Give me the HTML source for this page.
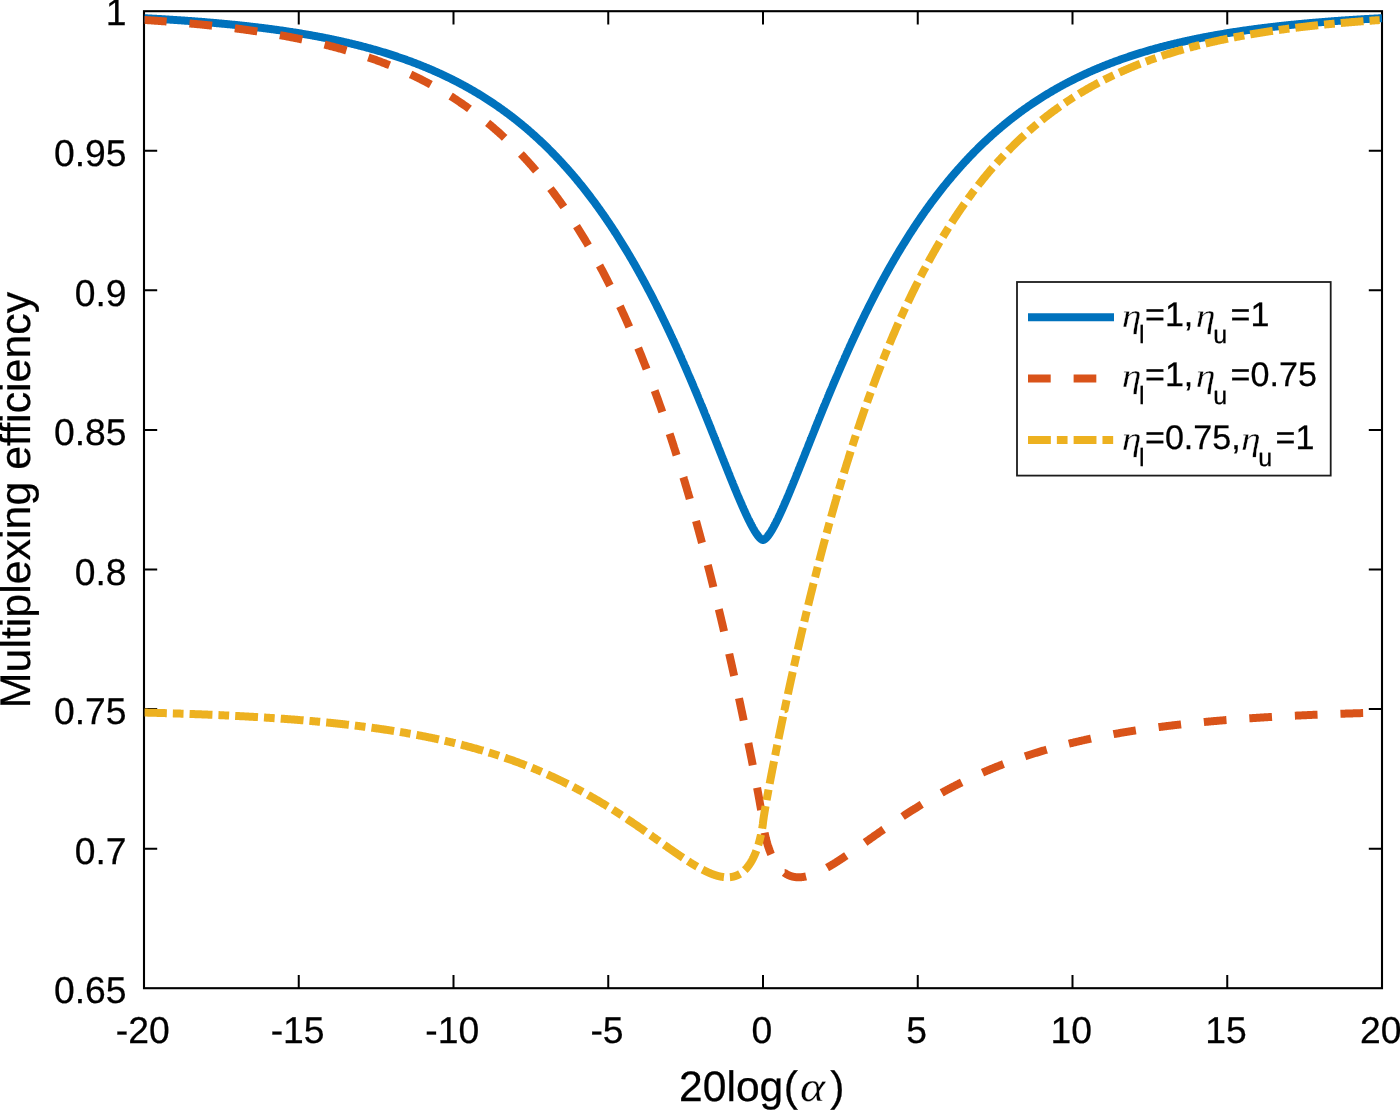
<!DOCTYPE html>
<html lang="en"><head><meta charset="utf-8"><title>Multiplexing efficiency</title>
<style>html,body{margin:0;padding:0;background:#fff}svg{display:block}text{font-family:"Liberation Sans",Arial,Helvetica,sans-serif;fill:#000;text-rendering:geometricPrecision;stroke:#000;stroke-width:.25px}.g{font-family:"Liberation Serif","DejaVu Serif",serif;font-style:italic;stroke:#fff;stroke-width:.3px;paint-order:fill stroke}</style></head><body>
<svg width="1400" height="1110" viewBox="0 0 1400 1110">
<rect width="1400" height="1110" fill="#fff"/>
<g stroke="#000" stroke-width="2.1" fill="none" stroke-linecap="square">
<rect x="144.0" y="11.2" width="1238.0" height="977.0"/>
</g><g stroke="#000" stroke-width="2" fill="none">
<path d="M298.75 988.20v-13.2 M298.75 11.20v13.2 M453.50 988.20v-13.2 M453.50 11.20v13.2 M608.25 988.20v-13.2 M608.25 11.20v13.2 M763.00 988.20v-13.2 M763.00 11.20v13.2 M917.75 988.20v-13.2 M917.75 11.20v13.2 M1072.50 988.20v-13.2 M1072.50 11.20v13.2 M1227.25 988.20v-13.2 M1227.25 11.20v13.2 M144.00 848.63h13.2 M1382.00 848.63h-13.2 M144.00 709.06h13.2 M1382.00 709.06h-13.2 M144.00 569.49h13.2 M1382.00 569.49h-13.2 M144.00 429.91h13.2 M1382.00 429.91h-13.2 M144.00 290.34h13.2 M1382.00 290.34h-13.2 M144.00 150.77h13.2 M1382.00 150.77h-13.2"/></g>
<defs><clipPath id="ax"><rect x="144.6" y="11.2" width="1238.1" height="977.0"/></clipPath></defs>
<g clip-path="url(#ax)" fill="none" stroke-width="8" stroke-linejoin="round">
<path d="M144.00 18.17 L144.77 18.21 L145.55 18.25 L146.32 18.29 L147.10 18.33 L147.87 18.37 L148.64 18.41 L149.42 18.46 L150.19 18.50 L150.96 18.54 L151.74 18.58 L152.51 18.62 L153.29 18.67 L154.06 18.71 L154.83 18.75 L155.61 18.80 L156.38 18.84 L157.15 18.89 L157.93 18.93 L158.70 18.97 L159.47 19.02 L160.25 19.06 L161.02 19.11 L161.80 19.16 L162.57 19.20 L163.34 19.25 L164.12 19.29 L164.89 19.34 L165.66 19.39 L166.44 19.43 L167.21 19.48 L167.99 19.53 L168.76 19.58 L169.53 19.63 L170.31 19.67 L171.08 19.72 L171.85 19.77 L172.63 19.82 L173.40 19.87 L174.18 19.92 L174.95 19.97 L175.72 20.02 L176.50 20.07 L177.27 20.12 L178.05 20.18 L178.82 20.23 L179.59 20.28 L180.37 20.33 L181.14 20.38 L181.91 20.44 L182.69 20.49 L183.46 20.54 L184.24 20.60 L185.01 20.65 L185.78 20.71 L186.56 20.76 L187.33 20.82 L188.10 20.87 L188.88 20.93 L189.65 20.98 L190.43 21.04 L191.20 21.10 L191.97 21.15 L192.75 21.21 L193.52 21.27 L194.29 21.33 L195.07 21.39 L195.84 21.44 L196.61 21.50 L197.39 21.56 L198.16 21.62 L198.94 21.68 L199.71 21.74 L200.48 21.80 L201.26 21.86 L202.03 21.93 L202.80 21.99 L203.58 22.05 L204.35 22.11 L205.13 22.18 L205.90 22.24 L206.67 22.30 L207.45 22.37 L208.22 22.43 L209.00 22.49 L209.77 22.56 L210.54 22.63 L211.32 22.69 L212.09 22.76 L212.86 22.82 L213.64 22.89 L214.41 22.96 L215.19 23.03 L215.96 23.09 L216.73 23.16 L217.51 23.23 L218.28 23.30 L219.05 23.37 L219.83 23.44 L220.60 23.51 L221.38 23.58 L222.15 23.65 L222.92 23.73 L223.70 23.80 L224.47 23.87 L225.24 23.94 L226.02 24.02 L226.79 24.09 L227.56 24.16 L228.34 24.24 L229.11 24.31 L229.89 24.39 L230.66 24.47 L231.43 24.54 L232.21 24.62 L232.98 24.70 L233.75 24.77 L234.53 24.85 L235.30 24.93 L236.08 25.01 L236.85 25.09 L237.62 25.17 L238.40 25.25 L239.17 25.33 L239.95 25.41 L240.72 25.49 L241.49 25.58 L242.27 25.66 L243.04 25.74 L243.81 25.83 L244.59 25.91 L245.36 25.99 L246.14 26.08 L246.91 26.17 L247.68 26.25 L248.46 26.34 L249.23 26.43 L250.00 26.51 L250.78 26.60 L251.55 26.69 L252.32 26.78 L253.10 26.87 L253.87 26.96 L254.65 27.05 L255.42 27.14 L256.19 27.23 L256.97 27.32 L257.74 27.42 L258.51 27.51 L259.29 27.60 L260.06 27.70 L260.84 27.79 L261.61 27.89 L262.38 27.99 L263.16 28.08 L263.93 28.18 L264.70 28.28 L265.48 28.38 L266.25 28.47 L267.03 28.57 L267.80 28.67 L268.57 28.77 L269.35 28.88 L270.12 28.98 L270.90 29.08 L271.67 29.18 L272.44 29.29 L273.22 29.39 L273.99 29.49 L274.76 29.60 L275.54 29.71 L276.31 29.81 L277.09 29.92 L277.86 30.03 L278.63 30.14 L279.41 30.24 L280.18 30.35 L280.95 30.46 L281.73 30.57 L282.50 30.69 L283.27 30.80 L284.05 30.91 L284.82 31.02 L285.60 31.14 L286.37 31.25 L287.14 31.37 L287.92 31.48 L288.69 31.60 L289.46 31.72 L290.24 31.84 L291.01 31.96 L291.79 32.07 L292.56 32.19 L293.33 32.32 L294.11 32.44 L294.88 32.56 L295.65 32.68 L296.43 32.81 L297.20 32.93 L297.98 33.05 L298.75 33.18 L299.52 33.31 L300.30 33.43 L301.07 33.56 L301.85 33.69 L302.62 33.82 L303.39 33.95 L304.17 34.08 L304.94 34.21 L305.71 34.34 L306.49 34.48 L307.26 34.61 L308.03 34.75 L308.81 34.88 L309.58 35.02 L310.36 35.15 L311.13 35.29 L311.90 35.43 L312.68 35.57 L313.45 35.71 L314.23 35.85 L315.00 35.99 L315.77 36.13 L316.55 36.28 L317.32 36.42 L318.09 36.57 L318.87 36.71 L319.64 36.86 L320.41 37.01 L321.19 37.15 L321.96 37.30 L322.74 37.45 L323.51 37.60 L324.28 37.76 L325.06 37.91 L325.83 38.06 L326.61 38.22 L327.38 38.37 L328.15 38.53 L328.93 38.68 L329.70 38.84 L330.47 39.00 L331.25 39.16 L332.02 39.32 L332.80 39.48 L333.57 39.64 L334.34 39.81 L335.12 39.97 L335.89 40.14 L336.66 40.30 L337.44 40.47 L338.21 40.64 L338.99 40.81 L339.76 40.98 L340.53 41.15 L341.31 41.32 L342.08 41.49 L342.85 41.67 L343.63 41.84 L344.40 42.02 L345.18 42.20 L345.95 42.37 L346.72 42.55 L347.50 42.73 L348.27 42.91 L349.04 43.09 L349.82 43.28 L350.59 43.46 L351.37 43.65 L352.14 43.83 L352.91 44.02 L353.69 44.21 L354.46 44.40 L355.23 44.59 L356.01 44.78 L356.78 44.97 L357.56 45.17 L358.33 45.36 L359.10 45.56 L359.88 45.75 L360.65 45.95 L361.42 46.15 L362.20 46.35 L362.97 46.55 L363.75 46.76 L364.52 46.96 L365.29 47.17 L366.07 47.37 L366.84 47.58 L367.61 47.79 L368.39 48.00 L369.16 48.21 L369.94 48.42 L370.71 48.63 L371.48 48.85 L372.26 49.06 L373.03 49.28 L373.80 49.50 L374.58 49.72 L375.35 49.94 L376.12 50.16 L376.90 50.38 L377.67 50.61 L378.45 50.84 L379.22 51.06 L379.99 51.29 L380.77 51.52 L381.54 51.75 L382.31 51.98 L383.09 52.22 L383.86 52.45 L384.64 52.69 L385.41 52.93 L386.18 53.16 L386.96 53.41 L387.73 53.65 L388.50 53.89 L389.28 54.13 L390.05 54.38 L390.83 54.63 L391.60 54.88 L392.37 55.13 L393.15 55.38 L393.92 55.63 L394.69 55.88 L395.47 56.14 L396.24 56.40 L397.02 56.66 L397.79 56.92 L398.56 57.18 L399.34 57.44 L400.11 57.71 L400.89 57.97 L401.66 58.24 L402.43 58.51 L403.21 58.78 L403.98 59.05 L404.75 59.32 L405.53 59.60 L406.30 59.88 L407.07 60.16 L407.85 60.44 L408.62 60.72 L409.40 61.00 L410.17 61.28 L410.94 61.57 L411.72 61.86 L412.49 62.15 L413.27 62.44 L414.04 62.73 L414.81 63.03 L415.59 63.32 L416.36 63.62 L417.13 63.92 L417.91 64.22 L418.68 64.52 L419.45 64.83 L420.23 65.14 L421.00 65.44 L421.78 65.75 L422.55 66.07 L423.32 66.38 L424.10 66.69 L424.87 67.01 L425.64 67.33 L426.42 67.65 L427.19 67.97 L427.97 68.30 L428.74 68.62 L429.51 68.95 L430.29 69.28 L431.06 69.61 L431.84 69.94 L432.61 70.28 L433.38 70.62 L434.16 70.96 L434.93 71.30 L435.70 71.64 L436.48 71.98 L437.25 72.33 L438.02 72.68 L438.80 73.03 L439.57 73.38 L440.35 73.74 L441.12 74.09 L441.89 74.45 L442.67 74.81 L443.44 75.18 L444.22 75.54 L444.99 75.91 L445.76 76.28 L446.54 76.65 L447.31 77.02 L448.08 77.39 L448.86 77.77 L449.63 78.15 L450.40 78.53 L451.18 78.92 L451.95 79.30 L452.73 79.69 L453.50 80.08 L454.27 80.47 L455.05 80.87 L455.82 81.26 L456.60 81.66 L457.37 82.06 L458.14 82.47 L458.92 82.87 L459.69 83.28 L460.46 83.69 L461.24 84.10 L462.01 84.52 L462.79 84.93 L463.56 85.35 L464.33 85.77 L465.11 86.20 L465.88 86.62 L466.65 87.05 L467.43 87.48 L468.20 87.92 L468.98 88.35 L469.75 88.79 L470.52 89.23 L471.30 89.68 L472.07 90.12 L472.84 90.57 L473.62 91.02 L474.39 91.47 L475.17 91.93 L475.94 92.39 L476.71 92.85 L477.49 93.31 L478.26 93.78 L479.03 94.25 L479.81 94.72 L480.58 95.19 L481.36 95.67 L482.13 96.15 L482.90 96.63 L483.68 97.12 L484.45 97.60 L485.22 98.09 L486.00 98.59 L486.77 99.08 L487.55 99.58 L488.32 100.08 L489.09 100.58 L489.87 101.09 L490.64 101.60 L491.41 102.11 L492.19 102.63 L492.96 103.14 L493.74 103.66 L494.51 104.19 L495.28 104.71 L496.06 105.24 L496.83 105.78 L497.60 106.31 L498.38 106.85 L499.15 107.39 L499.92 107.94 L500.70 108.48 L501.47 109.03 L502.25 109.59 L503.02 110.14 L503.79 110.70 L504.57 111.26 L505.34 111.83 L506.12 112.40 L506.89 112.97 L507.66 113.54 L508.44 114.12 L509.21 114.70 L509.98 115.29 L510.76 115.88 L511.53 116.47 L512.31 117.06 L513.08 117.66 L513.85 118.26 L514.63 118.86 L515.40 119.47 L516.17 120.08 L516.95 120.69 L517.72 121.31 L518.50 121.93 L519.27 122.56 L520.04 123.18 L520.82 123.82 L521.59 124.45 L522.36 125.09 L523.14 125.73 L523.91 126.37 L524.68 127.02 L525.46 127.67 L526.23 128.33 L527.01 128.99 L527.78 129.65 L528.55 130.32 L529.33 130.99 L530.10 131.66 L530.88 132.34 L531.65 133.02 L532.42 133.70 L533.20 134.39 L533.97 135.08 L534.74 135.78 L535.52 136.48 L536.29 137.18 L537.07 137.89 L537.84 138.60 L538.61 139.32 L539.39 140.03 L540.16 140.76 L540.93 141.48 L541.71 142.21 L542.48 142.95 L543.25 143.69 L544.03 144.43 L544.80 145.17 L545.58 145.93 L546.35 146.68 L547.12 147.44 L547.90 148.20 L548.67 148.97 L549.44 149.74 L550.22 150.51 L550.99 151.29 L551.77 152.07 L552.54 152.86 L553.31 153.65 L554.09 154.45 L554.86 155.25 L555.63 156.05 L556.41 156.86 L557.18 157.68 L557.96 158.49 L558.73 159.31 L559.50 160.14 L560.28 160.97 L561.05 161.81 L561.83 162.65 L562.60 163.49 L563.37 164.34 L564.15 165.19 L564.92 166.05 L565.69 166.91 L566.47 167.78 L567.24 168.65 L568.02 169.52 L568.79 170.40 L569.56 171.29 L570.34 172.18 L571.11 173.07 L571.88 173.97 L572.66 174.87 L573.43 175.78 L574.21 176.70 L574.98 177.61 L575.75 178.54 L576.53 179.46 L577.30 180.40 L578.07 181.33 L578.85 182.28 L579.62 183.22 L580.39 184.18 L581.17 185.13 L581.94 186.10 L582.72 187.06 L583.49 188.03 L584.26 189.01 L585.04 189.99 L585.81 190.98 L586.59 191.97 L587.36 192.97 L588.13 193.97 L588.91 194.98 L589.68 196.00 L590.45 197.01 L591.23 198.04 L592.00 199.07 L592.77 200.10 L593.55 201.14 L594.32 202.18 L595.10 203.24 L595.87 204.29 L596.64 205.35 L597.42 206.42 L598.19 207.49 L598.97 208.57 L599.74 209.65 L600.51 210.74 L601.29 211.83 L602.06 212.93 L602.83 214.04 L603.61 215.15 L604.38 216.26 L605.15 217.38 L605.93 218.51 L606.70 219.64 L607.48 220.78 L608.25 221.93 L609.02 223.08 L609.80 224.23 L610.57 225.40 L611.35 226.56 L612.12 227.74 L612.89 228.92 L613.67 230.10 L614.44 231.29 L615.21 232.49 L615.99 233.69 L616.76 234.90 L617.54 236.11 L618.31 237.33 L619.08 238.56 L619.86 239.79 L620.63 241.03 L621.40 242.28 L622.18 243.53 L622.95 244.78 L623.73 246.05 L624.50 247.31 L625.27 248.59 L626.05 249.87 L626.82 251.16 L627.59 252.45 L628.37 253.75 L629.14 255.06 L629.91 256.37 L630.69 257.69 L631.46 259.01 L632.24 260.34 L633.01 261.68 L633.78 263.02 L634.56 264.37 L635.33 265.73 L636.11 267.09 L636.88 268.46 L637.65 269.84 L638.43 271.22 L639.20 272.61 L639.97 274.00 L640.75 275.40 L641.52 276.81 L642.30 278.23 L643.07 279.65 L643.84 281.07 L644.62 282.51 L645.39 283.95 L646.16 285.39 L646.94 286.85 L647.71 288.30 L648.49 289.77 L649.26 291.24 L650.03 292.72 L650.81 294.21 L651.58 295.70 L652.35 297.20 L653.13 298.70 L653.90 300.22 L654.67 301.74 L655.45 303.26 L656.22 304.79 L657.00 306.33 L657.77 307.88 L658.54 309.43 L659.32 310.99 L660.09 312.55 L660.87 314.12 L661.64 315.70 L662.41 317.28 L663.19 318.88 L663.96 320.47 L664.73 322.08 L665.51 323.69 L666.28 325.31 L667.06 326.93 L667.83 328.56 L668.60 330.20 L669.38 331.84 L670.15 333.49 L670.30 333.82 L670.46 334.15 L670.61 334.48 L670.77 334.81 L670.92 335.15 L670.92 335.15 L671.08 335.48 L671.23 335.81 L671.39 336.14 L671.54 336.48 L671.70 336.81 L671.70 336.81 L671.85 337.14 L672.01 337.48 L672.16 337.81 L672.32 338.14 L672.47 338.48 L672.47 338.48 L672.63 338.81 L672.78 339.15 L672.94 339.48 L673.09 339.82 L673.25 340.15 L673.25 340.15 L673.40 340.49 L673.55 340.83 L673.71 341.16 L673.86 341.50 L674.02 341.84 L674.17 342.17 L674.33 342.51 L674.48 342.85 L674.64 343.19 L674.79 343.53 L674.79 343.53 L674.95 343.86 L675.10 344.20 L675.26 344.54 L675.41 344.88 L675.57 345.22 L675.57 345.22 L675.72 345.56 L675.88 345.90 L676.03 346.24 L676.19 346.58 L676.34 346.92 L676.34 346.92 L676.49 347.26 L676.65 347.60 L676.80 347.95 L676.96 348.29 L677.11 348.63 L677.11 348.63 L677.27 348.97 L677.42 349.31 L677.58 349.66 L677.73 350.00 L677.89 350.34 L678.04 350.69 L678.20 351.03 L678.35 351.37 L678.51 351.72 L678.66 352.06 L678.66 352.06 L678.82 352.41 L678.97 352.75 L679.13 353.10 L679.28 353.44 L679.43 353.79 L679.43 353.79 L679.59 354.14 L679.74 354.48 L679.90 354.83 L680.05 355.18 L680.21 355.52 L680.21 355.52 L680.36 355.87 L680.52 356.22 L680.67 356.56 L680.83 356.91 L680.98 357.26 L680.98 357.26 L681.14 357.61 L681.29 357.96 L681.45 358.31 L681.60 358.66 L681.76 359.01 L681.91 359.36 L682.07 359.71 L682.22 360.06 L682.38 360.41 L682.53 360.76 L682.53 360.76 L682.68 361.11 L682.84 361.46 L682.99 361.81 L683.15 362.16 L683.30 362.51 L683.30 362.51 L683.46 362.87 L683.61 363.22 L683.77 363.57 L683.92 363.92 L684.08 364.28 L684.08 364.28 L684.23 364.63 L684.39 364.98 L684.54 365.34 L684.70 365.69 L684.85 366.05 L684.85 366.05 L685.01 366.40 L685.16 366.76 L685.32 367.11 L685.47 367.47 L685.62 367.82 L685.78 368.18 L685.93 368.53 L686.09 368.89 L686.24 369.25 L686.40 369.60 L686.40 369.60 L686.55 369.96 L686.71 370.32 L686.86 370.67 L687.02 371.03 L687.17 371.39 L687.17 371.39 L687.33 371.75 L687.48 372.11 L687.64 372.46 L687.79 372.82 L687.95 373.18 L687.95 373.18 L688.10 373.54 L688.26 373.90 L688.41 374.26 L688.57 374.62 L688.72 374.98 L688.72 374.98 L688.87 375.34 L689.03 375.70 L689.18 376.06 L689.34 376.42 L689.49 376.78 L689.65 377.15 L689.80 377.51 L689.96 377.87 L690.11 378.23 L690.27 378.59 L690.27 378.59 L690.42 378.96 L690.58 379.32 L690.73 379.68 L690.89 380.05 L691.04 380.41 L691.04 380.41 L691.20 380.77 L691.35 381.14 L691.51 381.50 L691.66 381.86 L691.82 382.23 L691.82 382.23 L691.97 382.59 L692.12 382.96 L692.28 383.32 L692.43 383.69 L692.59 384.06 L692.59 384.06 L692.74 384.42 L692.90 384.79 L693.05 385.15 L693.21 385.52 L693.36 385.89 L693.52 386.25 L693.67 386.62 L693.83 386.99 L693.98 387.36 L694.14 387.72 L694.14 387.72 L694.29 388.09 L694.45 388.46 L694.60 388.83 L694.76 389.20 L694.91 389.57 L694.91 389.57 L695.06 389.93 L695.22 390.30 L695.37 390.67 L695.53 391.04 L695.68 391.41 L695.68 391.41 L695.84 391.78 L695.99 392.15 L696.15 392.52 L696.30 392.89 L696.46 393.27 L696.46 393.27 L696.61 393.64 L696.77 394.01 L696.92 394.38 L697.08 394.75 L697.23 395.12 L697.39 395.49 L697.54 395.87 L697.70 396.24 L697.85 396.61 L698.00 396.98 L698.01 396.98 L698.16 397.36 L698.31 397.73 L698.47 398.10 L698.62 398.48 L698.78 398.85 L698.78 398.85 L698.93 399.23 L699.09 399.60 L699.24 399.97 L699.40 400.35 L699.55 400.72 L699.55 400.72 L699.71 401.10 L699.86 401.47 L700.02 401.85 L700.17 402.22 L700.33 402.60 L700.33 402.60 L700.48 402.98 L700.64 403.35 L700.79 403.73 L700.95 404.10 L701.10 404.48 L701.25 404.86 L701.41 405.23 L701.56 405.61 L701.72 405.99 L701.87 406.37 L701.87 406.37 L702.03 406.74 L702.18 407.12 L702.34 407.50 L702.49 407.88 L702.65 408.25 L702.65 408.25 L702.80 408.63 L702.96 409.01 L703.11 409.39 L703.27 409.77 L703.42 410.15 L703.42 410.15 L703.58 410.53 L703.73 410.91 L703.89 411.29 L704.04 411.67 L704.20 412.05 L704.20 412.05 L704.35 412.43 L704.50 412.81 L704.66 413.19 L704.81 413.57 L704.97 413.95 L705.12 414.33 L705.28 414.71 L705.43 415.09 L705.59 415.47 L705.74 415.85 L705.74 415.85 L705.90 416.23 L706.05 416.62 L706.21 417.00 L706.36 417.38 L706.52 417.76 L706.52 417.76 L706.67 418.14 L706.83 418.53 L706.98 418.91 L707.14 419.29 L707.29 419.67 L707.29 419.67 L707.44 420.06 L707.60 420.44 L707.75 420.82 L707.91 421.21 L708.06 421.59 L708.06 421.59 L708.22 421.97 L708.37 422.36 L708.53 422.74 L708.68 423.13 L708.84 423.51 L708.99 423.89 L709.15 424.28 L709.30 424.66 L709.46 425.05 L709.61 425.43 L709.61 425.43 L709.77 425.82 L709.92 426.20 L710.08 426.59 L710.23 426.97 L710.38 427.36 L710.38 427.36 L710.54 427.74 L710.69 428.13 L710.85 428.51 L711.00 428.90 L711.16 429.29 L711.16 429.29 L711.31 429.67 L711.47 430.06 L711.62 430.44 L711.78 430.83 L711.93 431.22 L711.93 431.22 L712.09 431.60 L712.24 431.99 L712.40 432.38 L712.55 432.76 L712.71 433.15 L712.86 433.54 L713.02 433.92 L713.17 434.31 L713.33 434.70 L713.48 435.08 L713.48 435.08 L713.63 435.47 L713.79 435.86 L713.94 436.25 L714.10 436.63 L714.25 437.02 L714.25 437.02 L714.41 437.41 L714.56 437.80 L714.72 438.18 L714.87 438.57 L715.03 438.96 L715.03 438.96 L715.18 439.35 L715.34 439.74 L715.49 440.12 L715.65 440.51 L715.80 440.90 L715.80 440.90 L715.96 441.29 L716.11 441.68 L716.27 442.07 L716.42 442.45 L716.58 442.84 L716.73 443.23 L716.88 443.62 L717.04 444.01 L717.19 444.40 L717.35 444.79 L717.35 444.79 L717.50 445.17 L717.66 445.56 L717.81 445.95 L717.97 446.34 L718.12 446.73 L718.12 446.73 L718.28 447.12 L718.43 447.51 L718.59 447.90 L718.74 448.29 L718.90 448.67 L718.90 448.67 L719.05 449.06 L719.21 449.45 L719.36 449.84 L719.52 450.23 L719.67 450.62 L719.67 450.62 L719.82 451.01 L719.98 451.40 L720.13 451.79 L720.29 452.18 L720.44 452.56 L720.60 452.95 L720.75 453.34 L720.91 453.73 L721.06 454.12 L721.22 454.51 L721.22 454.51 L721.37 454.90 L721.53 455.29 L721.68 455.68 L721.84 456.07 L721.99 456.45 L721.99 456.45 L722.15 456.84 L722.30 457.23 L722.46 457.62 L722.61 458.01 L722.76 458.40 L722.76 458.40 L722.92 458.79 L723.07 459.18 L723.23 459.56 L723.38 459.95 L723.54 460.34 L723.54 460.34 L723.69 460.73 L723.85 461.12 L724.00 461.51 L724.16 461.89 L724.31 462.28 L724.47 462.67 L724.62 463.06 L724.78 463.45 L724.93 463.83 L725.09 464.22 L725.09 464.22 L725.24 464.61 L725.40 465.00 L725.55 465.38 L725.71 465.77 L725.86 466.16 L725.86 466.16 L726.01 466.55 L726.17 466.93 L726.32 467.32 L726.48 467.71 L726.63 468.09 L726.63 468.09 L726.79 468.48 L726.94 468.87 L727.10 469.25 L727.25 469.64 L727.41 470.03 L727.41 470.03 L727.56 470.41 L727.72 470.80 L727.87 471.18 L728.03 471.57 L728.18 471.96 L728.34 472.34 L728.49 472.73 L728.65 473.11 L728.80 473.50 L728.95 473.88 L728.96 473.88 L729.11 474.26 L729.26 474.65 L729.42 475.03 L729.57 475.42 L729.73 475.80 L729.73 475.80 L729.88 476.19 L730.04 476.57 L730.19 476.95 L730.35 477.33 L730.50 477.72 L730.50 477.72 L730.66 478.10 L730.81 478.48 L730.97 478.87 L731.12 479.25 L731.28 479.63 L731.28 479.63 L731.43 480.01 L731.59 480.39 L731.74 480.77 L731.90 481.15 L732.05 481.53 L732.20 481.91 L732.36 482.29 L732.51 482.67 L732.67 483.05 L732.82 483.43 L732.82 483.43 L732.98 483.81 L733.13 484.19 L733.29 484.57 L733.44 484.95 L733.60 485.33 L733.60 485.33 L733.75 485.70 L733.91 486.08 L734.06 486.46 L734.22 486.84 L734.37 487.21 L734.37 487.21 L734.53 487.59 L734.68 487.96 L734.84 488.34 L734.99 488.71 L735.15 489.09 L735.15 489.09 L735.30 489.46 L735.45 489.84 L735.61 490.21 L735.76 490.58 L735.92 490.96 L736.07 491.33 L736.23 491.70 L736.38 492.07 L736.54 492.45 L736.69 492.82 L736.69 492.82 L736.85 493.19 L737.00 493.56 L737.16 493.93 L737.31 494.30 L737.47 494.67 L737.47 494.67 L737.62 495.04 L737.78 495.40 L737.93 495.77 L738.09 496.14 L738.24 496.51 L738.24 496.51 L738.39 496.87 L738.55 497.24 L738.70 497.60 L738.86 497.97 L739.01 498.33 L739.01 498.33 L739.17 498.70 L739.32 499.06 L739.48 499.42 L739.63 499.79 L739.79 500.15 L739.94 500.51 L740.10 500.87 L740.25 501.23 L740.41 501.59 L740.56 501.95 L740.56 501.95 L740.72 502.31 L740.87 502.67 L741.03 503.02 L741.18 503.38 L741.34 503.74 L741.34 503.74 L741.49 504.09 L741.64 504.45 L741.80 504.80 L741.95 505.15 L742.11 505.51 L742.11 505.51 L742.26 505.86 L742.42 506.21 L742.57 506.56 L742.73 506.91 L742.88 507.26 L742.88 507.26 L743.04 507.61 L743.19 507.96 L743.35 508.31 L743.50 508.65 L743.66 509.00 L743.81 509.35 L743.97 509.69 L744.12 510.03 L744.28 510.38 L744.43 510.72 L744.43 510.72 L744.58 511.06 L744.74 511.40 L744.89 511.74 L745.05 512.08 L745.20 512.42 L745.20 512.42 L745.36 512.76 L745.51 513.09 L745.67 513.43 L745.82 513.76 L745.98 514.10 L745.98 514.10 L746.13 514.43 L746.29 514.76 L746.44 515.09 L746.60 515.42 L746.75 515.75 L746.75 515.75 L746.91 516.08 L747.06 516.41 L747.22 516.73 L747.37 517.06 L747.52 517.38 L747.68 517.71 L747.83 518.03 L747.99 518.35 L748.14 518.67 L748.30 518.99 L748.30 518.99 L748.45 519.31 L748.61 519.62 L748.76 519.94 L748.92 520.25 L749.07 520.56 L749.07 520.56 L749.23 520.88 L749.38 521.19 L749.54 521.50 L749.69 521.80 L749.85 522.11 L749.85 522.11 L750.00 522.42 L750.16 522.72 L750.31 523.02 L750.47 523.32 L750.62 523.62 L750.62 523.62 L750.77 523.92 L750.93 524.22 L751.08 524.52 L751.24 524.81 L751.39 525.10 L751.55 525.40 L751.70 525.69 L751.86 525.97 L752.01 526.26 L752.17 526.55 L752.17 526.55 L752.32 526.83 L752.48 527.11 L752.63 527.39 L752.79 527.67 L752.94 527.95 L752.94 527.95 L753.10 528.22 L753.25 528.50 L753.41 528.77 L753.56 529.04 L753.72 529.31 L753.72 529.31 L753.87 529.57 L754.02 529.84 L754.18 530.10 L754.33 530.36 L754.49 530.62 L754.49 530.62 L754.64 530.88 L754.80 531.13 L754.95 531.38 L755.11 531.63 L755.26 531.88 L755.42 532.13 L755.57 532.37 L755.73 532.61 L755.88 532.85 L756.04 533.08 L756.04 533.08 L756.19 533.32 L756.35 533.55 L756.50 533.78 L756.66 534.01 L756.81 534.23 L756.81 534.23 L756.96 534.45 L757.12 534.67 L757.27 534.88 L757.43 535.10 L757.58 535.31 L757.58 535.31 L757.74 535.51 L757.89 535.72 L758.05 535.92 L758.20 536.12 L758.36 536.31 L758.36 536.31 L758.51 536.50 L758.67 536.69 L758.82 536.87 L758.98 537.05 L759.13 537.23 L759.29 537.40 L759.44 537.57 L759.60 537.74 L759.75 537.90 L759.90 538.06 L759.91 538.06 L760.06 538.21 L760.21 538.36 L760.37 538.50 L760.52 538.64 L760.68 538.77 L760.68 538.77 L760.83 538.90 L760.99 539.02 L761.14 539.14 L761.30 539.25 L761.45 539.36 L761.45 539.36 L761.61 539.46 L761.76 539.55 L761.92 539.64 L762.07 539.72 L762.23 539.79 L762.23 539.79 L762.38 539.85 L762.54 539.90 L762.69 539.94 L762.85 539.97 L763.00 539.98 L763.15 539.97 L763.31 539.94 L763.46 539.90 L763.62 539.85 L763.77 539.79 L763.77 539.79 L763.93 539.72 L764.08 539.64 L764.24 539.55 L764.39 539.46 L764.55 539.36 L764.55 539.36 L764.70 539.25 L764.86 539.14 L765.01 539.02 L765.17 538.90 L765.32 538.77 L765.32 538.77 L765.48 538.64 L765.63 538.50 L765.79 538.36 L765.94 538.21 L766.10 538.06 L766.10 538.06 L766.25 537.90 L766.40 537.74 L766.56 537.57 L766.71 537.40 L766.87 537.23 L767.02 537.05 L767.18 536.87 L767.33 536.69 L767.49 536.50 L767.64 536.31 L767.64 536.31 L767.80 536.12 L767.95 535.92 L768.11 535.72 L768.26 535.51 L768.42 535.31 L768.42 535.31 L768.57 535.10 L768.73 534.88 L768.88 534.67 L769.04 534.45 L769.19 534.23 L769.19 534.23 L769.34 534.01 L769.50 533.78 L769.65 533.55 L769.81 533.32 L769.96 533.08 L769.96 533.08 L770.12 532.85 L770.27 532.61 L770.43 532.37 L770.58 532.13 L770.74 531.88 L770.89 531.63 L771.05 531.38 L771.20 531.13 L771.36 530.88 L771.51 530.62 L771.51 530.62 L771.67 530.36 L771.82 530.10 L771.98 529.84 L772.13 529.57 L772.29 529.31 L772.29 529.31 L772.44 529.04 L772.59 528.77 L772.75 528.50 L772.90 528.22 L773.06 527.95 L773.06 527.95 L773.21 527.67 L773.37 527.39 L773.52 527.11 L773.68 526.83 L773.83 526.55 L773.83 526.55 L773.99 526.26 L774.14 525.97 L774.30 525.69 L774.45 525.40 L774.61 525.10 L774.76 524.81 L774.92 524.52 L775.07 524.22 L775.23 523.92 L775.38 523.62 L775.38 523.62 L775.53 523.32 L775.69 523.02 L775.84 522.72 L776.00 522.42 L776.15 522.11 L776.15 522.11 L776.31 521.80 L776.46 521.50 L776.62 521.19 L776.77 520.88 L776.93 520.56 L776.93 520.56 L777.08 520.25 L777.24 519.94 L777.39 519.62 L777.55 519.31 L777.70 518.99 L777.70 518.99 L777.86 518.67 L778.01 518.35 L778.17 518.03 L778.32 517.71 L778.47 517.38 L778.63 517.06 L778.78 516.73 L778.94 516.41 L779.09 516.08 L779.25 515.75 L779.25 515.75 L779.40 515.42 L779.56 515.09 L779.71 514.76 L779.87 514.43 L780.02 514.10 L780.02 514.10 L780.18 513.76 L780.33 513.43 L780.49 513.09 L780.64 512.76 L780.80 512.42 L780.80 512.42 L780.95 512.08 L781.11 511.74 L781.26 511.40 L781.42 511.06 L781.57 510.72 L781.57 510.72 L781.72 510.38 L781.88 510.03 L782.03 509.69 L782.19 509.35 L782.34 509.00 L782.50 508.65 L782.65 508.31 L782.81 507.96 L782.96 507.61 L783.12 507.26 L783.12 507.26 L783.27 506.91 L783.43 506.56 L783.58 506.21 L783.74 505.86 L783.89 505.51 L783.89 505.51 L784.05 505.15 L784.20 504.80 L784.36 504.45 L784.51 504.09 L784.66 503.74 L784.67 503.74 L784.82 503.38 L784.97 503.02 L785.13 502.67 L785.28 502.31 L785.44 501.95 L785.44 501.95 L785.59 501.59 L785.75 501.23 L785.90 500.87 L786.06 500.51 L786.21 500.15 L786.37 499.79 L786.52 499.42 L786.68 499.06 L786.83 498.70 L786.99 498.33 L786.99 498.33 L787.14 497.97 L787.30 497.60 L787.45 497.24 L787.61 496.87 L787.76 496.51 L787.76 496.51 L787.91 496.14 L788.07 495.77 L788.22 495.40 L788.38 495.04 L788.53 494.67 L788.53 494.67 L788.69 494.30 L788.84 493.93 L789.00 493.56 L789.15 493.19 L789.31 492.82 L789.31 492.82 L789.46 492.45 L789.62 492.07 L789.77 491.70 L789.93 491.33 L790.08 490.96 L790.24 490.58 L790.39 490.21 L790.55 489.84 L790.70 489.46 L790.85 489.09 L790.86 489.09 L791.01 488.71 L791.16 488.34 L791.32 487.96 L791.47 487.59 L791.63 487.21 L791.63 487.21 L791.78 486.84 L791.94 486.46 L792.09 486.08 L792.25 485.70 L792.40 485.33 L792.40 485.33 L792.56 484.95 L792.71 484.57 L792.87 484.19 L793.02 483.81 L793.18 483.43 L793.18 483.43 L793.33 483.05 L793.49 482.67 L793.64 482.29 L793.80 481.91 L793.95 481.53 L794.10 481.15 L794.26 480.77 L794.41 480.39 L794.57 480.01 L794.72 479.63 L794.72 479.63 L794.88 479.25 L795.03 478.87 L795.19 478.48 L795.34 478.10 L795.50 477.72 L795.50 477.72 L795.65 477.33 L795.81 476.95 L795.96 476.57 L796.12 476.19 L796.27 475.80 L796.27 475.80 L796.43 475.42 L796.58 475.03 L796.74 474.65 L796.89 474.26 L797.05 473.88 L797.05 473.88 L797.20 473.50 L797.35 473.11 L797.51 472.73 L797.66 472.34 L797.82 471.96 L797.97 471.57 L798.13 471.18 L798.28 470.80 L798.44 470.41 L798.59 470.03 L798.59 470.03 L798.75 469.64 L798.90 469.25 L799.06 468.87 L799.21 468.48 L799.37 468.09 L799.37 468.09 L799.52 467.71 L799.68 467.32 L799.83 466.93 L799.99 466.55 L800.14 466.16 L800.14 466.16 L800.29 465.77 L800.45 465.38 L800.60 465.00 L800.76 464.61 L800.91 464.22 L800.91 464.22 L801.07 463.83 L801.22 463.45 L801.38 463.06 L801.53 462.67 L801.69 462.28 L801.84 461.89 L802.00 461.51 L802.15 461.12 L802.31 460.73 L802.46 460.34 L802.46 460.34 L802.62 459.95 L802.77 459.56 L802.93 459.18 L803.08 458.79 L803.24 458.40 L803.24 458.40 L803.39 458.01 L803.54 457.62 L803.70 457.23 L803.85 456.84 L804.01 456.45 L804.01 456.45 L804.16 456.07 L804.32 455.68 L804.47 455.29 L804.63 454.90 L804.78 454.51 L804.78 454.51 L804.94 454.12 L805.09 453.73 L805.25 453.34 L805.40 452.95 L805.56 452.56 L805.71 452.18 L805.87 451.79 L806.02 451.40 L806.18 451.01 L806.33 450.62 L806.33 450.62 L806.48 450.23 L806.64 449.84 L806.79 449.45 L806.95 449.06 L807.10 448.67 L807.10 448.67 L807.26 448.29 L807.41 447.90 L807.57 447.51 L807.72 447.12 L807.88 446.73 L807.88 446.73 L808.03 446.34 L808.19 445.95 L808.34 445.56 L808.50 445.17 L808.65 444.79 L808.65 444.79 L808.81 444.40 L808.96 444.01 L809.12 443.62 L809.27 443.23 L809.42 442.84 L809.58 442.45 L809.73 442.07 L809.89 441.68 L810.04 441.29 L810.20 440.90 L810.20 440.90 L810.35 440.51 L810.51 440.12 L810.66 439.74 L810.82 439.35 L810.97 438.96 L810.97 438.96 L811.13 438.57 L811.28 438.18 L811.44 437.80 L811.59 437.41 L811.75 437.02 L811.75 437.02 L811.90 436.63 L812.06 436.25 L812.21 435.86 L812.37 435.47 L812.52 435.08 L812.52 435.08 L812.67 434.70 L812.83 434.31 L812.98 433.92 L813.14 433.54 L813.29 433.15 L813.45 432.76 L813.60 432.38 L813.76 431.99 L813.91 431.60 L814.07 431.22 L814.07 431.22 L814.22 430.83 L814.38 430.44 L814.53 430.06 L814.69 429.67 L814.84 429.29 L814.84 429.29 L815.00 428.90 L815.15 428.51 L815.31 428.13 L815.46 427.74 L815.62 427.36 L815.62 427.36 L815.77 426.97 L815.92 426.59 L816.08 426.20 L816.23 425.82 L816.39 425.43 L816.39 425.43 L816.54 425.05 L816.70 424.66 L816.85 424.28 L817.01 423.89 L817.16 423.51 L817.32 423.13 L817.47 422.74 L817.63 422.36 L817.78 421.97 L817.94 421.59 L817.94 421.59 L818.09 421.21 L818.25 420.82 L818.40 420.44 L818.56 420.06 L818.71 419.67 L818.71 419.67 L818.86 419.29 L819.02 418.91 L819.17 418.53 L819.33 418.14 L819.48 417.76 L819.48 417.76 L819.64 417.38 L819.79 417.00 L819.95 416.62 L820.10 416.23 L820.26 415.85 L820.26 415.85 L820.41 415.47 L820.57 415.09 L820.72 414.71 L820.88 414.33 L821.03 413.95 L821.19 413.57 L821.34 413.19 L821.50 412.81 L821.65 412.43 L821.80 412.05 L821.81 412.05 L821.96 411.67 L822.11 411.29 L822.27 410.91 L822.42 410.53 L822.58 410.15 L822.58 410.15 L822.73 409.77 L822.89 409.39 L823.04 409.01 L823.20 408.63 L823.35 408.25 L823.35 408.25 L823.51 407.88 L823.66 407.50 L823.82 407.12 L823.97 406.74 L824.13 406.37 L824.13 406.37 L824.28 405.99 L824.44 405.61 L824.59 405.23 L824.75 404.86 L824.90 404.48 L825.05 404.10 L825.21 403.73 L825.36 403.35 L825.52 402.98 L825.67 402.60 L825.67 402.60 L825.83 402.22 L825.98 401.85 L826.14 401.47 L826.29 401.10 L826.45 400.72 L826.45 400.72 L826.60 400.35 L826.76 399.97 L826.91 399.60 L827.07 399.23 L827.22 398.85 L827.22 398.85 L827.38 398.48 L827.53 398.10 L827.69 397.73 L827.84 397.36 L828.00 396.98 L828.00 396.98 L828.15 396.61 L828.30 396.24 L828.46 395.87 L828.61 395.49 L828.77 395.12 L828.92 394.75 L829.08 394.38 L829.23 394.01 L829.39 393.64 L829.54 393.27 L829.54 393.27 L829.70 392.89 L829.85 392.52 L830.01 392.15 L830.16 391.78 L830.32 391.41 L830.32 391.41 L830.47 391.04 L830.63 390.67 L830.78 390.30 L830.94 389.93 L831.09 389.57 L831.09 389.57 L831.24 389.20 L831.40 388.83 L831.55 388.46 L831.71 388.09 L831.86 387.72 L831.86 387.72 L832.02 387.36 L832.17 386.99 L832.33 386.62 L832.48 386.25 L832.64 385.89 L832.79 385.52 L832.95 385.15 L833.10 384.79 L833.26 384.42 L833.41 384.06 L833.41 384.06 L833.57 383.69 L833.72 383.32 L833.88 382.96 L834.03 382.59 L834.18 382.23 L834.18 382.23 L834.34 381.86 L834.49 381.50 L834.65 381.14 L834.80 380.77 L834.96 380.41 L834.96 380.41 L835.11 380.05 L835.27 379.68 L835.42 379.32 L835.58 378.96 L835.73 378.59 L835.73 378.59 L835.89 378.23 L836.04 377.87 L836.20 377.51 L836.35 377.15 L836.51 376.78 L836.66 376.42 L836.82 376.06 L836.97 375.70 L837.13 375.34 L837.28 374.98 L837.28 374.98 L837.43 374.62 L837.59 374.26 L837.74 373.90 L837.90 373.54 L838.05 373.18 L838.05 373.18 L838.21 372.82 L838.36 372.46 L838.52 372.11 L838.67 371.75 L838.83 371.39 L838.83 371.39 L838.98 371.03 L839.14 370.67 L839.29 370.32 L839.45 369.96 L839.60 369.60 L839.60 369.60 L839.76 369.25 L839.91 368.89 L840.07 368.53 L840.22 368.18 L840.38 367.82 L840.53 367.47 L840.68 367.11 L840.84 366.76 L840.99 366.40 L841.15 366.05 L841.15 366.05 L841.30 365.69 L841.46 365.34 L841.61 364.98 L841.77 364.63 L841.92 364.28 L841.92 364.28 L842.08 363.92 L842.23 363.57 L842.39 363.22 L842.54 362.87 L842.70 362.51 L842.70 362.51 L842.85 362.16 L843.01 361.81 L843.16 361.46 L843.32 361.11 L843.47 360.76 L843.47 360.76 L843.62 360.41 L843.78 360.06 L843.93 359.71 L844.09 359.36 L844.24 359.01 L844.40 358.66 L844.55 358.31 L844.71 357.96 L844.86 357.61 L845.02 357.26 L845.02 357.26 L845.17 356.91 L845.33 356.56 L845.48 356.22 L845.64 355.87 L845.79 355.52 L845.79 355.52 L845.95 355.18 L846.10 354.83 L846.26 354.48 L846.41 354.14 L846.57 353.79 L846.57 353.79 L846.72 353.44 L846.87 353.10 L847.03 352.75 L847.18 352.41 L847.34 352.06 L847.34 352.06 L847.49 351.72 L847.65 351.37 L847.80 351.03 L847.96 350.69 L848.11 350.34 L848.27 350.00 L848.42 349.66 L848.58 349.31 L848.73 348.97 L848.89 348.63 L848.89 348.63 L849.04 348.29 L849.20 347.95 L849.35 347.60 L849.51 347.26 L849.66 346.92 L849.66 346.92 L849.81 346.58 L849.97 346.24 L850.12 345.90 L850.28 345.56 L850.43 345.22 L850.43 345.22 L850.59 344.88 L850.74 344.54 L850.90 344.20 L851.05 343.86 L851.21 343.53 L851.21 343.53 L851.36 343.19 L851.52 342.85 L851.67 342.51 L851.83 342.17 L851.98 341.84 L852.14 341.50 L852.29 341.16 L852.45 340.83 L852.60 340.49 L852.75 340.15 L852.75 340.15 L852.91 339.82 L853.06 339.48 L853.22 339.15 L853.37 338.81 L853.53 338.48 L853.53 338.48 L853.68 338.14 L853.84 337.81 L853.99 337.48 L854.15 337.14 L854.30 336.81 L854.30 336.81 L854.46 336.48 L854.61 336.14 L854.77 335.81 L854.92 335.48 L855.08 335.15 L855.08 335.15 L855.23 334.81 L855.39 334.48 L855.54 334.15 L855.70 333.82 L855.85 333.49 L856.62 331.84 L857.40 330.20 L858.17 328.56 L858.95 326.93 L859.72 325.31 L860.49 323.69 L861.27 322.08 L862.04 320.47 L862.81 318.88 L863.59 317.28 L864.36 315.70 L865.13 314.12 L865.91 312.55 L866.68 310.99 L867.46 309.43 L868.23 307.88 L869.00 306.33 L869.78 304.79 L870.55 303.26 L871.33 301.74 L872.10 300.22 L872.87 298.70 L873.65 297.20 L874.42 295.70 L875.19 294.21 L875.97 292.72 L876.74 291.24 L877.51 289.77 L878.29 288.30 L879.06 286.85 L879.84 285.39 L880.61 283.95 L881.38 282.51 L882.16 281.07 L882.93 279.65 L883.71 278.23 L884.48 276.81 L885.25 275.40 L886.03 274.00 L886.80 272.61 L887.57 271.22 L888.35 269.84 L889.12 268.46 L889.90 267.09 L890.67 265.73 L891.44 264.37 L892.22 263.02 L892.99 261.68 L893.76 260.34 L894.54 259.01 L895.31 257.69 L896.09 256.37 L896.86 255.06 L897.63 253.75 L898.41 252.45 L899.18 251.16 L899.95 249.87 L900.73 248.59 L901.50 247.31 L902.28 246.05 L903.05 244.78 L903.82 243.53 L904.60 242.28 L905.37 241.03 L906.14 239.79 L906.92 238.56 L907.69 237.33 L908.47 236.11 L909.24 234.90 L910.01 233.69 L910.79 232.49 L911.56 231.29 L912.33 230.10 L913.11 228.92 L913.88 227.74 L914.66 226.56 L915.43 225.40 L916.20 224.23 L916.98 223.08 L917.75 221.93 L918.52 220.78 L919.30 219.64 L920.07 218.51 L920.85 217.38 L921.62 216.26 L922.39 215.15 L923.17 214.04 L923.94 212.93 L924.71 211.83 L925.49 210.74 L926.26 209.65 L927.04 208.57 L927.81 207.49 L928.58 206.42 L929.36 205.35 L930.13 204.29 L930.90 203.24 L931.68 202.18 L932.45 201.14 L933.22 200.10 L934.00 199.07 L934.77 198.04 L935.55 197.01 L936.32 196.00 L937.09 194.98 L937.87 193.97 L938.64 192.97 L939.42 191.97 L940.19 190.98 L940.96 189.99 L941.74 189.01 L942.51 188.03 L943.28 187.06 L944.06 186.10 L944.83 185.13 L945.61 184.18 L946.38 183.22 L947.15 182.28 L947.93 181.33 L948.70 180.40 L949.47 179.46 L950.25 178.54 L951.02 177.61 L951.80 176.70 L952.57 175.78 L953.34 174.87 L954.12 173.97 L954.89 173.07 L955.66 172.18 L956.44 171.29 L957.21 170.40 L957.99 169.52 L958.76 168.65 L959.53 167.78 L960.31 166.91 L961.08 166.05 L961.85 165.19 L962.63 164.34 L963.40 163.49 L964.17 162.65 L964.95 161.81 L965.72 160.97 L966.50 160.14 L967.27 159.31 L968.04 158.49 L968.82 157.68 L969.59 156.86 L970.37 156.05 L971.14 155.25 L971.91 154.45 L972.69 153.65 L973.46 152.86 L974.23 152.07 L975.01 151.29 L975.78 150.51 L976.56 149.74 L977.33 148.97 L978.10 148.20 L978.88 147.44 L979.65 146.68 L980.42 145.93 L981.20 145.17 L981.97 144.43 L982.75 143.69 L983.52 142.95 L984.29 142.21 L985.07 141.48 L985.84 140.76 L986.61 140.03 L987.39 139.32 L988.16 138.60 L988.93 137.89 L989.71 137.18 L990.48 136.48 L991.26 135.78 L992.03 135.08 L992.80 134.39 L993.58 133.70 L994.35 133.02 L995.12 132.34 L995.90 131.66 L996.67 130.99 L997.45 130.32 L998.22 129.65 L998.99 128.99 L999.77 128.33 L1000.54 127.67 L1001.32 127.02 L1002.09 126.37 L1002.86 125.73 L1003.64 125.09 L1004.41 124.45 L1005.18 123.82 L1005.96 123.18 L1006.73 122.56 L1007.50 121.93 L1008.28 121.31 L1009.05 120.69 L1009.83 120.08 L1010.60 119.47 L1011.37 118.86 L1012.15 118.26 L1012.92 117.66 L1013.70 117.06 L1014.47 116.47 L1015.24 115.88 L1016.02 115.29 L1016.79 114.70 L1017.56 114.12 L1018.34 113.54 L1019.11 112.97 L1019.88 112.40 L1020.66 111.83 L1021.43 111.26 L1022.21 110.70 L1022.98 110.14 L1023.75 109.59 L1024.53 109.03 L1025.30 108.48 L1026.08 107.94 L1026.85 107.39 L1027.62 106.85 L1028.40 106.31 L1029.17 105.78 L1029.94 105.24 L1030.72 104.71 L1031.49 104.19 L1032.26 103.66 L1033.04 103.14 L1033.81 102.63 L1034.59 102.11 L1035.36 101.60 L1036.13 101.09 L1036.91 100.58 L1037.68 100.08 L1038.45 99.58 L1039.23 99.08 L1040.00 98.59 L1040.78 98.09 L1041.55 97.60 L1042.32 97.12 L1043.10 96.63 L1043.87 96.15 L1044.64 95.67 L1045.42 95.19 L1046.19 94.72 L1046.97 94.25 L1047.74 93.78 L1048.51 93.31 L1049.29 92.85 L1050.06 92.39 L1050.84 91.93 L1051.61 91.47 L1052.38 91.02 L1053.16 90.57 L1053.93 90.12 L1054.70 89.68 L1055.48 89.23 L1056.25 88.79 L1057.03 88.35 L1057.80 87.92 L1058.57 87.48 L1059.35 87.05 L1060.12 86.62 L1060.89 86.20 L1061.67 85.77 L1062.44 85.35 L1063.22 84.93 L1063.99 84.52 L1064.76 84.10 L1065.54 83.69 L1066.31 83.28 L1067.08 82.87 L1067.86 82.47 L1068.63 82.06 L1069.41 81.66 L1070.18 81.26 L1070.95 80.87 L1071.73 80.47 L1072.50 80.08 L1073.27 79.69 L1074.05 79.30 L1074.82 78.92 L1075.60 78.53 L1076.37 78.15 L1077.14 77.77 L1077.92 77.39 L1078.69 77.02 L1079.46 76.65 L1080.24 76.28 L1081.01 75.91 L1081.79 75.54 L1082.56 75.18 L1083.33 74.81 L1084.11 74.45 L1084.88 74.09 L1085.65 73.74 L1086.43 73.38 L1087.20 73.03 L1087.97 72.68 L1088.75 72.33 L1089.52 71.98 L1090.30 71.64 L1091.07 71.30 L1091.84 70.96 L1092.62 70.62 L1093.39 70.28 L1094.16 69.94 L1094.94 69.61 L1095.71 69.28 L1096.49 68.95 L1097.26 68.62 L1098.03 68.30 L1098.81 67.97 L1099.58 67.65 L1100.36 67.33 L1101.13 67.01 L1101.90 66.69 L1102.68 66.38 L1103.45 66.07 L1104.22 65.75 L1105.00 65.44 L1105.77 65.14 L1106.55 64.83 L1107.32 64.52 L1108.09 64.22 L1108.87 63.92 L1109.64 63.62 L1110.41 63.32 L1111.19 63.03 L1111.96 62.73 L1112.74 62.44 L1113.51 62.15 L1114.28 61.86 L1115.06 61.57 L1115.83 61.28 L1116.60 61.00 L1117.38 60.72 L1118.15 60.44 L1118.92 60.16 L1119.70 59.88 L1120.47 59.60 L1121.25 59.32 L1122.02 59.05 L1122.79 58.78 L1123.57 58.51 L1124.34 58.24 L1125.12 57.97 L1125.89 57.71 L1126.66 57.44 L1127.44 57.18 L1128.21 56.92 L1128.98 56.66 L1129.76 56.40 L1130.53 56.14 L1131.31 55.88 L1132.08 55.63 L1132.85 55.38 L1133.63 55.13 L1134.40 54.88 L1135.17 54.63 L1135.95 54.38 L1136.72 54.13 L1137.49 53.89 L1138.27 53.65 L1139.04 53.41 L1139.82 53.16 L1140.59 52.93 L1141.36 52.69 L1142.14 52.45 L1142.91 52.22 L1143.69 51.98 L1144.46 51.75 L1145.23 51.52 L1146.01 51.29 L1146.78 51.06 L1147.55 50.84 L1148.33 50.61 L1149.10 50.38 L1149.88 50.16 L1150.65 49.94 L1151.42 49.72 L1152.20 49.50 L1152.97 49.28 L1153.74 49.06 L1154.52 48.85 L1155.29 48.63 L1156.07 48.42 L1156.84 48.21 L1157.61 48.00 L1158.39 47.79 L1159.16 47.58 L1159.93 47.37 L1160.71 47.17 L1161.48 46.96 L1162.26 46.76 L1163.03 46.55 L1163.80 46.35 L1164.58 46.15 L1165.35 45.95 L1166.12 45.75 L1166.90 45.56 L1167.67 45.36 L1168.44 45.17 L1169.22 44.97 L1169.99 44.78 L1170.77 44.59 L1171.54 44.40 L1172.31 44.21 L1173.09 44.02 L1173.86 43.83 L1174.64 43.65 L1175.41 43.46 L1176.18 43.28 L1176.96 43.09 L1177.73 42.91 L1178.50 42.73 L1179.28 42.55 L1180.05 42.37 L1180.83 42.20 L1181.60 42.02 L1182.37 41.84 L1183.15 41.67 L1183.92 41.49 L1184.69 41.32 L1185.47 41.15 L1186.24 40.98 L1187.02 40.81 L1187.79 40.64 L1188.56 40.47 L1189.34 40.30 L1190.11 40.14 L1190.88 39.97 L1191.66 39.81 L1192.43 39.64 L1193.20 39.48 L1193.98 39.32 L1194.75 39.16 L1195.53 39.00 L1196.30 38.84 L1197.07 38.68 L1197.85 38.53 L1198.62 38.37 L1199.39 38.22 L1200.17 38.06 L1200.94 37.91 L1201.72 37.76 L1202.49 37.60 L1203.26 37.45 L1204.04 37.30 L1204.81 37.15 L1205.59 37.01 L1206.36 36.86 L1207.13 36.71 L1207.91 36.57 L1208.68 36.42 L1209.45 36.28 L1210.23 36.13 L1211.00 35.99 L1211.78 35.85 L1212.55 35.71 L1213.32 35.57 L1214.10 35.43 L1214.87 35.29 L1215.64 35.15 L1216.42 35.02 L1217.19 34.88 L1217.97 34.75 L1218.74 34.61 L1219.51 34.48 L1220.29 34.34 L1221.06 34.21 L1221.83 34.08 L1222.61 33.95 L1223.38 33.82 L1224.15 33.69 L1224.93 33.56 L1225.70 33.43 L1226.48 33.31 L1227.25 33.18 L1228.02 33.05 L1228.80 32.93 L1229.57 32.81 L1230.35 32.68 L1231.12 32.56 L1231.89 32.44 L1232.67 32.32 L1233.44 32.19 L1234.21 32.07 L1234.99 31.96 L1235.76 31.84 L1236.54 31.72 L1237.31 31.60 L1238.08 31.48 L1238.86 31.37 L1239.63 31.25 L1240.40 31.14 L1241.18 31.02 L1241.95 30.91 L1242.72 30.80 L1243.50 30.69 L1244.27 30.57 L1245.05 30.46 L1245.82 30.35 L1246.59 30.24 L1247.37 30.14 L1248.14 30.03 L1248.92 29.92 L1249.69 29.81 L1250.46 29.71 L1251.24 29.60 L1252.01 29.49 L1252.78 29.39 L1253.56 29.29 L1254.33 29.18 L1255.11 29.08 L1255.88 28.98 L1256.65 28.88 L1257.43 28.77 L1258.20 28.67 L1258.97 28.57 L1259.75 28.47 L1260.52 28.38 L1261.30 28.28 L1262.07 28.18 L1262.84 28.08 L1263.62 27.99 L1264.39 27.89 L1265.16 27.79 L1265.94 27.70 L1266.71 27.60 L1267.49 27.51 L1268.26 27.42 L1269.03 27.32 L1269.81 27.23 L1270.58 27.14 L1271.35 27.05 L1272.13 26.96 L1272.90 26.87 L1273.67 26.78 L1274.45 26.69 L1275.22 26.60 L1276.00 26.51 L1276.77 26.43 L1277.54 26.34 L1278.32 26.25 L1279.09 26.17 L1279.87 26.08 L1280.64 25.99 L1281.41 25.91 L1282.19 25.83 L1282.96 25.74 L1283.73 25.66 L1284.51 25.58 L1285.28 25.49 L1286.06 25.41 L1286.83 25.33 L1287.60 25.25 L1288.38 25.17 L1289.15 25.09 L1289.92 25.01 L1290.70 24.93 L1291.47 24.85 L1292.24 24.77 L1293.02 24.70 L1293.79 24.62 L1294.57 24.54 L1295.34 24.47 L1296.11 24.39 L1296.89 24.31 L1297.66 24.24 L1298.44 24.16 L1299.21 24.09 L1299.98 24.02 L1300.76 23.94 L1301.53 23.87 L1302.30 23.80 L1303.08 23.73 L1303.85 23.65 L1304.62 23.58 L1305.40 23.51 L1306.17 23.44 L1306.95 23.37 L1307.72 23.30 L1308.49 23.23 L1309.27 23.16 L1310.04 23.09 L1310.82 23.03 L1311.59 22.96 L1312.36 22.89 L1313.14 22.82 L1313.91 22.76 L1314.68 22.69 L1315.46 22.63 L1316.23 22.56 L1317.01 22.49 L1317.78 22.43 L1318.55 22.37 L1319.33 22.30 L1320.10 22.24 L1320.87 22.18 L1321.65 22.11 L1322.42 22.05 L1323.19 21.99 L1323.97 21.93 L1324.74 21.86 L1325.52 21.80 L1326.29 21.74 L1327.06 21.68 L1327.84 21.62 L1328.61 21.56 L1329.39 21.50 L1330.16 21.44 L1330.93 21.39 L1331.71 21.33 L1332.48 21.27 L1333.25 21.21 L1334.03 21.15 L1334.80 21.10 L1335.58 21.04 L1336.35 20.98 L1337.12 20.93 L1337.90 20.87 L1338.67 20.82 L1339.44 20.76 L1340.22 20.71 L1340.99 20.65 L1341.77 20.60 L1342.54 20.54 L1343.31 20.49 L1344.09 20.44 L1344.86 20.38 L1345.63 20.33 L1346.41 20.28 L1347.18 20.23 L1347.96 20.18 L1348.73 20.12 L1349.50 20.07 L1350.28 20.02 L1351.05 19.97 L1351.82 19.92 L1352.60 19.87 L1353.37 19.82 L1354.14 19.77 L1354.92 19.72 L1355.69 19.67 L1356.47 19.63 L1357.24 19.58 L1358.01 19.53 L1358.79 19.48 L1359.56 19.43 L1360.34 19.39 L1361.11 19.34 L1361.88 19.29 L1362.66 19.25 L1363.43 19.20 L1364.20 19.16 L1364.98 19.11 L1365.75 19.06 L1366.53 19.02 L1367.30 18.97 L1368.07 18.93 L1368.85 18.89 L1369.62 18.84 L1370.39 18.80 L1371.17 18.75 L1371.94 18.71 L1372.72 18.67 L1373.49 18.62 L1374.26 18.58 L1375.04 18.54 L1375.81 18.50 L1376.58 18.46 L1377.36 18.41 L1378.13 18.37 L1378.91 18.33 L1379.68 18.29 L1380.45 18.25 L1381.23 18.21 L1382.00 18.17" stroke="#0072BD"/>
<path d="M144.00 19.92 L144.77 19.97 L145.55 20.02 L146.32 20.07 L147.10 20.12 L147.87 20.17 L148.64 20.23 L149.42 20.28 L150.19 20.33 L150.96 20.38 L151.74 20.44 L152.51 20.49 L153.29 20.54 L154.06 20.60 L154.83 20.65 L155.61 20.70 L156.38 20.76 L157.15 20.81 L157.93 20.87 L158.70 20.93 L159.47 20.98 L160.25 21.04 L161.02 21.10 L161.80 21.15 L162.57 21.21 L163.34 21.27 L164.12 21.33 L164.89 21.38 L165.66 21.44 L166.44 21.50 L167.21 21.56 L167.99 21.62 L168.76 21.68 L169.53 21.74 L170.31 21.80 L171.08 21.86 L171.85 21.93 L172.63 21.99 L173.40 22.05 L174.18 22.11 L174.95 22.17 L175.72 22.24 L176.50 22.30 L177.27 22.37 L178.05 22.43 L178.82 22.50 L179.59 22.56 L180.37 22.63 L181.14 22.69 L181.91 22.76 L182.69 22.82 L183.46 22.89 L184.24 22.96 L185.01 23.03 L185.78 23.10 L186.56 23.16 L187.33 23.23 L188.10 23.30 L188.88 23.37 L189.65 23.44 L190.43 23.51 L191.20 23.58 L191.97 23.66 L192.75 23.73 L193.52 23.80 L194.29 23.87 L195.07 23.95 L195.84 24.02 L196.61 24.09 L197.39 24.17 L198.16 24.24 L198.94 24.32 L199.71 24.39 L200.48 24.47 L201.26 24.55 L202.03 24.62 L202.80 24.70 L203.58 24.78 L204.35 24.86 L205.13 24.94 L205.90 25.01 L206.67 25.09 L207.45 25.17 L208.22 25.25 L209.00 25.34 L209.77 25.42 L210.54 25.50 L211.32 25.58 L212.09 25.66 L212.86 25.75 L213.64 25.83 L214.41 25.92 L215.19 26.00 L215.96 26.09 L216.73 26.17 L217.51 26.26 L218.28 26.35 L219.05 26.43 L219.83 26.52 L220.60 26.61 L221.38 26.70 L222.15 26.79 L222.92 26.88 L223.70 26.97 L224.47 27.06 L225.24 27.15 L226.02 27.24 L226.79 27.34 L227.56 27.43 L228.34 27.52 L229.11 27.62 L229.89 27.71 L230.66 27.81 L231.43 27.90 L232.21 28.00 L232.98 28.09 L233.75 28.19 L234.53 28.29 L235.30 28.39 L236.08 28.49 L236.85 28.59 L237.62 28.69 L238.40 28.79 L239.17 28.89 L239.95 28.99 L240.72 29.09 L241.49 29.20 L242.27 29.30 L243.04 29.41 L243.81 29.51 L244.59 29.62 L245.36 29.72 L246.14 29.83 L246.91 29.94 L247.68 30.05 L248.46 30.15 L249.23 30.26 L250.00 30.37 L250.78 30.48 L251.55 30.59 L252.32 30.71 L253.10 30.82 L253.87 30.93 L254.65 31.05 L255.42 31.16 L256.19 31.28 L256.97 31.39 L257.74 31.51 L258.51 31.63 L259.29 31.74 L260.06 31.86 L260.84 31.98 L261.61 32.10 L262.38 32.22 L263.16 32.34 L263.93 32.46 L264.70 32.59 L265.48 32.71 L266.25 32.83 L267.03 32.96 L267.80 33.08 L268.57 33.21 L269.35 33.34 L270.12 33.46 L270.90 33.59 L271.67 33.72 L272.44 33.85 L273.22 33.98 L273.99 34.11 L274.76 34.25 L275.54 34.38 L276.31 34.51 L277.09 34.65 L277.86 34.78 L278.63 34.92 L279.41 35.05 L280.18 35.19 L280.95 35.33 L281.73 35.47 L282.50 35.61 L283.27 35.75 L284.05 35.89 L284.82 36.03 L285.60 36.18 L286.37 36.32 L287.14 36.47 L287.92 36.61 L288.69 36.76 L289.46 36.91 L290.24 37.05 L291.01 37.20 L291.79 37.35 L292.56 37.50 L293.33 37.66 L294.11 37.81 L294.88 37.96 L295.65 38.12 L296.43 38.27 L297.20 38.43 L297.98 38.58 L298.75 38.74 L299.52 38.90 L300.30 39.06 L301.07 39.22 L301.85 39.38 L302.62 39.54 L303.39 39.71 L304.17 39.87 L304.94 40.04 L305.71 40.20 L306.49 40.37 L307.26 40.54 L308.03 40.71 L308.81 40.88 L309.58 41.05 L310.36 41.22 L311.13 41.39 L311.90 41.57 L312.68 41.74 L313.45 41.92 L314.23 42.10 L315.00 42.27 L315.77 42.45 L316.55 42.63 L317.32 42.81 L318.09 43.00 L318.87 43.18 L319.64 43.36 L320.41 43.55 L321.19 43.74 L321.96 43.92 L322.74 44.11 L323.51 44.30 L324.28 44.49 L325.06 44.68 L325.83 44.88 L326.61 45.07 L327.38 45.27 L328.15 45.46 L328.93 45.66 L329.70 45.86 L330.47 46.06 L331.25 46.26 L332.02 46.46 L332.80 46.66 L333.57 46.87 L334.34 47.07 L335.12 47.28 L335.89 47.49 L336.66 47.70 L337.44 47.91 L338.21 48.12 L338.99 48.33 L339.76 48.54 L340.53 48.76 L341.31 48.98 L342.08 49.19 L342.85 49.41 L343.63 49.63 L344.40 49.85 L345.18 50.08 L345.95 50.30 L346.72 50.53 L347.50 50.75 L348.27 50.98 L349.04 51.21 L349.82 51.44 L350.59 51.67 L351.37 51.90 L352.14 52.14 L352.91 52.37 L353.69 52.61 L354.46 52.85 L355.23 53.09 L356.01 53.33 L356.78 53.57 L357.56 53.82 L358.33 54.06 L359.10 54.31 L359.88 54.56 L360.65 54.81 L361.42 55.06 L362.20 55.31 L362.97 55.57 L363.75 55.82 L364.52 56.08 L365.29 56.34 L366.07 56.60 L366.84 56.86 L367.61 57.12 L368.39 57.39 L369.16 57.65 L369.94 57.92 L370.71 58.19 L371.48 58.46 L372.26 58.73 L373.03 59.00 L373.80 59.28 L374.58 59.56 L375.35 59.83 L376.12 60.11 L376.90 60.40 L377.67 60.68 L378.45 60.96 L379.22 61.25 L379.99 61.54 L380.77 61.83 L381.54 62.12 L382.31 62.41 L383.09 62.71 L383.86 63.00 L384.64 63.30 L385.41 63.60 L386.18 63.90 L386.96 64.21 L387.73 64.51 L388.50 64.82 L389.28 65.13 L390.05 65.44 L390.83 65.75 L391.60 66.06 L392.37 66.38 L393.15 66.70 L393.92 67.02 L394.69 67.34 L395.47 67.66 L396.24 67.98 L397.02 68.31 L397.79 68.64 L398.56 68.97 L399.34 69.30 L400.11 69.64 L400.89 69.97 L401.66 70.31 L402.43 70.65 L403.21 70.99 L403.98 71.34 L404.75 71.68 L405.53 72.03 L406.30 72.38 L407.07 72.73 L407.85 73.09 L408.62 73.44 L409.40 73.80 L410.17 74.16 L410.94 74.52 L411.72 74.89 L412.49 75.25 L413.27 75.62 L414.04 75.99 L414.81 76.36 L415.59 76.74 L416.36 77.12 L417.13 77.49 L417.91 77.88 L418.68 78.26 L419.45 78.64 L420.23 79.03 L421.00 79.42 L421.78 79.81 L422.55 80.21 L423.32 80.61 L424.10 81.00 L424.87 81.41 L425.64 81.81 L426.42 82.22 L427.19 82.62 L427.97 83.03 L428.74 83.45 L429.51 83.86 L430.29 84.28 L431.06 84.70 L431.84 85.12 L432.61 85.55 L433.38 85.97 L434.16 86.40 L434.93 86.84 L435.70 87.27 L436.48 87.71 L437.25 88.15 L438.02 88.59 L438.80 89.03 L439.57 89.48 L440.35 89.93 L441.12 90.38 L441.89 90.84 L442.67 91.30 L443.44 91.76 L444.22 92.22 L444.99 92.68 L445.76 93.15 L446.54 93.62 L447.31 94.10 L448.08 94.57 L448.86 95.05 L449.63 95.53 L450.40 96.02 L451.18 96.50 L451.95 96.99 L452.73 97.49 L453.50 97.98 L454.27 98.48 L455.05 98.98 L455.82 99.49 L456.60 99.99 L457.37 100.50 L458.14 101.01 L458.92 101.53 L459.69 102.05 L460.46 102.57 L461.24 103.09 L462.01 103.62 L462.79 104.15 L463.56 104.69 L464.33 105.22 L465.11 105.76 L465.88 106.30 L466.65 106.85 L467.43 107.40 L468.20 107.95 L468.98 108.51 L469.75 109.07 L470.52 109.63 L471.30 110.19 L472.07 110.76 L472.84 111.33 L473.62 111.90 L474.39 112.48 L475.17 113.06 L475.94 113.65 L476.71 114.24 L477.49 114.83 L478.26 115.42 L479.03 116.02 L479.81 116.62 L480.58 117.22 L481.36 117.83 L482.13 118.44 L482.90 119.06 L483.68 119.68 L484.45 120.30 L485.22 120.92 L486.00 121.55 L486.77 122.19 L487.55 122.82 L488.32 123.46 L489.09 124.11 L489.87 124.75 L490.64 125.40 L491.41 126.06 L492.19 126.72 L492.96 127.38 L493.74 128.04 L494.51 128.71 L495.28 129.39 L496.06 130.06 L496.83 130.74 L497.60 131.43 L498.38 132.12 L499.15 132.81 L499.92 133.51 L500.70 134.21 L501.47 134.91 L502.25 135.62 L503.02 136.33 L503.79 137.05 L504.57 137.77 L505.34 138.50 L506.12 139.22 L506.89 139.96 L507.66 140.69 L508.44 141.44 L509.21 142.18 L509.98 142.93 L510.76 143.69 L511.53 144.44 L512.31 145.21 L513.08 145.97 L513.85 146.74 L514.63 147.52 L515.40 148.30 L516.17 149.08 L516.95 149.87 L517.72 150.67 L518.50 151.46 L519.27 152.27 L520.04 153.07 L520.82 153.89 L521.59 154.70 L522.36 155.52 L523.14 156.35 L523.91 157.18 L524.68 158.01 L525.46 158.85 L526.23 159.70 L527.01 160.54 L527.78 161.40 L528.55 162.26 L529.33 163.12 L530.10 163.99 L530.88 164.86 L531.65 165.74 L532.42 166.62 L533.20 167.51 L533.97 168.40 L534.74 169.30 L535.52 170.20 L536.29 171.11 L537.07 172.03 L537.84 172.94 L538.61 173.87 L539.39 174.80 L540.16 175.73 L540.93 176.67 L541.71 177.62 L542.48 178.57 L543.25 179.52 L544.03 180.48 L544.80 181.45 L545.58 182.42 L546.35 183.40 L547.12 184.38 L547.90 185.37 L548.67 186.36 L549.44 187.36 L550.22 188.37 L550.99 189.38 L551.77 190.39 L552.54 191.41 L553.31 192.44 L554.09 193.48 L554.86 194.51 L555.63 195.56 L556.41 196.61 L557.18 197.67 L557.96 198.73 L558.73 199.80 L559.50 200.87 L560.28 201.95 L561.05 203.04 L561.83 204.13 L562.60 205.23 L563.37 206.34 L564.15 207.45 L564.92 208.57 L565.69 209.69 L566.47 210.82 L567.24 211.96 L568.02 213.10 L568.79 214.25 L569.56 215.41 L570.34 216.57 L571.11 217.74 L571.88 218.91 L572.66 220.09 L573.43 221.28 L574.21 222.48 L574.98 223.68 L575.75 224.89 L576.53 226.10 L577.30 227.32 L578.07 228.55 L578.85 229.79 L579.62 231.03 L580.39 232.28 L581.17 233.54 L581.94 234.80 L582.72 236.07 L583.49 237.35 L584.26 238.63 L585.04 239.93 L585.81 241.22 L586.59 242.53 L587.36 243.84 L588.13 245.16 L588.91 246.49 L589.68 247.83 L590.45 249.17 L591.23 250.52 L592.00 251.88 L592.77 253.24 L593.55 254.62 L594.32 256.00 L595.10 257.39 L595.87 258.78 L596.64 260.19 L597.42 261.60 L598.19 263.02 L598.97 264.44 L599.74 265.88 L600.51 267.32 L601.29 268.77 L602.06 270.23 L602.83 271.70 L603.61 273.17 L604.38 274.66 L605.15 276.15 L605.93 277.65 L606.70 279.16 L607.48 280.67 L608.25 282.20 L609.02 283.73 L609.80 285.27 L610.57 286.82 L611.35 288.38 L612.12 289.95 L612.89 291.52 L613.67 293.11 L614.44 294.70 L615.21 296.30 L615.99 297.91 L616.76 299.53 L617.54 301.16 L618.31 302.80 L619.08 304.44 L619.86 306.10 L620.63 307.76 L621.40 309.43 L622.18 311.12 L622.95 312.81 L623.73 314.51 L624.50 316.22 L625.27 317.94 L626.05 319.67 L626.82 321.41 L627.59 323.15 L628.37 324.91 L629.14 326.68 L629.91 328.45 L630.69 330.24 L631.46 332.04 L632.24 333.84 L633.01 335.66 L633.78 337.48 L634.56 339.32 L635.33 341.16 L636.11 343.02 L636.88 344.88 L637.65 346.76 L638.43 348.64 L639.20 350.54 L639.97 352.44 L640.75 354.36 L641.52 356.29 L642.30 358.22 L643.07 360.17 L643.84 362.13 L644.62 364.10 L645.39 366.07 L646.16 368.06 L646.94 370.06 L647.71 372.07 L648.49 374.10 L649.26 376.13 L650.03 378.17 L650.81 380.23 L651.58 382.29 L652.35 384.37 L653.13 386.45 L653.90 388.55 L654.67 390.66 L655.45 392.78 L656.22 394.92 L657.00 397.06 L657.77 399.21 L658.54 401.38 L659.32 403.56 L660.09 405.75 L660.87 407.95 L661.64 410.16 L662.41 412.38 L663.19 414.62 L663.96 416.87 L664.73 419.13 L665.51 421.40 L666.28 423.68 L667.06 425.98 L667.83 428.29 L668.60 430.60 L669.38 432.94 L670.15 435.28 L670.30 435.75 L670.46 436.22 L670.61 436.69 L670.77 437.16 L670.92 437.64 L670.92 437.64 L671.08 438.11 L671.23 438.58 L671.39 439.06 L671.54 439.53 L671.70 440.00 L671.70 440.00 L671.85 440.48 L672.01 440.96 L672.16 441.43 L672.32 441.91 L672.47 442.39 L672.47 442.39 L672.63 442.86 L672.78 443.34 L672.94 443.82 L673.09 444.30 L673.25 444.78 L673.25 444.78 L673.40 445.26 L673.55 445.74 L673.71 446.22 L673.86 446.70 L674.02 447.18 L674.17 447.67 L674.33 448.15 L674.48 448.63 L674.64 449.12 L674.79 449.60 L674.79 449.60 L674.95 450.09 L675.10 450.57 L675.26 451.06 L675.41 451.55 L675.57 452.03 L675.57 452.03 L675.72 452.52 L675.88 453.01 L676.03 453.50 L676.19 453.99 L676.34 454.48 L676.34 454.48 L676.49 454.97 L676.65 455.46 L676.80 455.95 L676.96 456.44 L677.11 456.93 L677.11 456.93 L677.27 457.43 L677.42 457.92 L677.58 458.41 L677.73 458.91 L677.89 459.40 L678.04 459.90 L678.20 460.39 L678.35 460.89 L678.51 461.38 L678.66 461.88 L678.66 461.88 L678.82 462.38 L678.97 462.88 L679.13 463.38 L679.28 463.88 L679.43 464.38 L679.43 464.38 L679.59 464.88 L679.74 465.38 L679.90 465.88 L680.05 466.38 L680.21 466.88 L680.21 466.88 L680.36 467.39 L680.52 467.89 L680.67 468.39 L680.83 468.90 L680.98 469.40 L680.98 469.40 L681.14 469.91 L681.29 470.41 L681.45 470.92 L681.60 471.43 L681.76 471.94 L681.91 472.44 L682.07 472.95 L682.22 473.46 L682.38 473.97 L682.53 474.48 L682.53 474.48 L682.68 474.99 L682.84 475.50 L682.99 476.02 L683.15 476.53 L683.30 477.04 L683.30 477.04 L683.46 477.55 L683.61 478.07 L683.77 478.58 L683.92 479.10 L684.08 479.61 L684.08 479.61 L684.23 480.13 L684.39 480.65 L684.54 481.16 L684.70 481.68 L684.85 482.20 L684.85 482.20 L685.01 482.72 L685.16 483.24 L685.32 483.76 L685.47 484.28 L685.62 484.80 L685.78 485.32 L685.93 485.84 L686.09 486.36 L686.24 486.88 L686.40 487.41 L686.40 487.41 L686.55 487.93 L686.71 488.46 L686.86 488.98 L687.02 489.51 L687.17 490.03 L687.17 490.03 L687.33 490.56 L687.48 491.09 L687.64 491.61 L687.79 492.14 L687.95 492.67 L687.95 492.67 L688.10 493.20 L688.26 493.73 L688.41 494.26 L688.57 494.79 L688.72 495.32 L688.72 495.32 L688.87 495.85 L689.03 496.39 L689.18 496.92 L689.34 497.45 L689.49 497.99 L689.65 498.52 L689.80 499.06 L689.96 499.59 L690.11 500.13 L690.27 500.67 L690.27 500.67 L690.42 501.20 L690.58 501.74 L690.73 502.28 L690.89 502.82 L691.04 503.36 L691.04 503.36 L691.20 503.90 L691.35 504.44 L691.51 504.98 L691.66 505.52 L691.82 506.06 L691.82 506.06 L691.97 506.61 L692.12 507.15 L692.28 507.69 L692.43 508.24 L692.59 508.78 L692.59 508.78 L692.74 509.33 L692.90 509.87 L693.05 510.42 L693.21 510.97 L693.36 511.52 L693.52 512.06 L693.67 512.61 L693.83 513.16 L693.98 513.71 L694.14 514.26 L694.14 514.26 L694.29 514.81 L694.45 515.37 L694.60 515.92 L694.76 516.47 L694.91 517.02 L694.91 517.02 L695.06 517.58 L695.22 518.13 L695.37 518.69 L695.53 519.24 L695.68 519.80 L695.68 519.80 L695.84 520.35 L695.99 520.91 L696.15 521.47 L696.30 522.03 L696.46 522.59 L696.46 522.59 L696.61 523.14 L696.77 523.70 L696.92 524.26 L697.08 524.83 L697.23 525.39 L697.39 525.95 L697.54 526.51 L697.70 527.08 L697.85 527.64 L698.00 528.20 L698.01 528.20 L698.16 528.77 L698.31 529.33 L698.47 529.90 L698.62 530.47 L698.78 531.03 L698.78 531.03 L698.93 531.60 L699.09 532.17 L699.24 532.74 L699.40 533.31 L699.55 533.88 L699.55 533.88 L699.71 534.45 L699.86 535.02 L700.02 535.59 L700.17 536.16 L700.33 536.73 L700.33 536.73 L700.48 537.31 L700.64 537.88 L700.79 538.46 L700.95 539.03 L701.10 539.61 L701.25 540.18 L701.41 540.76 L701.56 541.34 L701.72 541.91 L701.87 542.49 L701.87 542.49 L702.03 543.07 L702.18 543.65 L702.34 544.23 L702.49 544.81 L702.65 545.39 L702.65 545.39 L702.80 545.97 L702.96 546.56 L703.11 547.14 L703.27 547.72 L703.42 548.31 L703.42 548.31 L703.58 548.89 L703.73 549.48 L703.89 550.06 L704.04 550.65 L704.20 551.24 L704.20 551.24 L704.35 551.82 L704.50 552.41 L704.66 553.00 L704.81 553.59 L704.97 554.18 L705.12 554.77 L705.28 555.36 L705.43 555.95 L705.59 556.54 L705.74 557.14 L705.74 557.14 L705.90 557.73 L706.05 558.32 L706.21 558.92 L706.36 559.51 L706.52 560.11 L706.52 560.11 L706.67 560.70 L706.83 561.30 L706.98 561.90 L707.14 562.50 L707.29 563.10 L707.29 563.10 L707.44 563.69 L707.60 564.29 L707.75 564.89 L707.91 565.49 L708.06 566.10 L708.06 566.10 L708.22 566.70 L708.37 567.30 L708.53 567.90 L708.68 568.51 L708.84 569.11 L708.99 569.72 L709.15 570.32 L709.30 570.93 L709.46 571.53 L709.61 572.14 L709.61 572.14 L709.77 572.75 L709.92 573.36 L710.08 573.97 L710.23 574.57 L710.38 575.18 L710.38 575.18 L710.54 575.80 L710.69 576.41 L710.85 577.02 L711.00 577.63 L711.16 578.24 L711.16 578.24 L711.31 578.86 L711.47 579.47 L711.62 580.09 L711.78 580.70 L711.93 581.32 L711.93 581.32 L712.09 581.93 L712.24 582.55 L712.40 583.17 L712.55 583.79 L712.71 584.41 L712.86 585.02 L713.02 585.64 L713.17 586.27 L713.33 586.89 L713.48 587.51 L713.48 587.51 L713.63 588.13 L713.79 588.75 L713.94 589.38 L714.10 590.00 L714.25 590.63 L714.25 590.63 L714.41 591.25 L714.56 591.88 L714.72 592.50 L714.87 593.13 L715.03 593.76 L715.03 593.76 L715.18 594.39 L715.34 595.02 L715.49 595.64 L715.65 596.27 L715.80 596.91 L715.80 596.91 L715.96 597.54 L716.11 598.17 L716.27 598.80 L716.42 599.43 L716.58 600.07 L716.73 600.70 L716.88 601.34 L717.04 601.97 L717.19 602.61 L717.35 603.24 L717.35 603.24 L717.50 603.88 L717.66 604.52 L717.81 605.16 L717.97 605.80 L718.12 606.44 L718.12 606.44 L718.28 607.08 L718.43 607.72 L718.59 608.36 L718.74 609.00 L718.90 609.64 L718.90 609.64 L719.05 610.29 L719.21 610.93 L719.36 611.57 L719.52 612.22 L719.67 612.86 L719.67 612.86 L719.82 613.51 L719.98 614.16 L720.13 614.80 L720.29 615.45 L720.44 616.10 L720.60 616.75 L720.75 617.40 L720.91 618.05 L721.06 618.70 L721.22 619.35 L721.22 619.35 L721.37 620.00 L721.53 620.66 L721.68 621.31 L721.84 621.96 L721.99 622.62 L721.99 622.62 L722.15 623.27 L722.30 623.93 L722.46 624.58 L722.61 625.24 L722.76 625.90 L722.76 625.90 L722.92 626.56 L723.07 627.22 L723.23 627.88 L723.38 628.54 L723.54 629.20 L723.54 629.20 L723.69 629.86 L723.85 630.52 L724.00 631.18 L724.16 631.84 L724.31 632.51 L724.47 633.17 L724.62 633.84 L724.78 634.50 L724.93 635.17 L725.09 635.83 L725.09 635.83 L725.24 636.50 L725.40 637.17 L725.55 637.84 L725.71 638.51 L725.86 639.18 L725.86 639.18 L726.01 639.85 L726.17 640.52 L726.32 641.19 L726.48 641.86 L726.63 642.53 L726.63 642.53 L726.79 643.21 L726.94 643.88 L727.10 644.55 L727.25 645.23 L727.41 645.91 L727.41 645.91 L727.56 646.58 L727.72 647.26 L727.87 647.94 L728.03 648.61 L728.18 649.29 L728.34 649.97 L728.49 650.65 L728.65 651.33 L728.80 652.01 L728.95 652.70 L728.96 652.70 L729.11 653.38 L729.26 654.06 L729.42 654.74 L729.57 655.43 L729.73 656.11 L729.73 656.11 L729.88 656.80 L730.04 657.48 L730.19 658.17 L730.35 658.86 L730.50 659.55 L730.50 659.55 L730.66 660.24 L730.81 660.92 L730.97 661.61 L731.12 662.30 L731.28 663.00 L731.28 663.00 L731.43 663.69 L731.59 664.38 L731.74 665.07 L731.90 665.76 L732.05 666.46 L732.20 667.15 L732.36 667.85 L732.51 668.54 L732.67 669.24 L732.82 669.94 L732.82 669.94 L732.98 670.64 L733.13 671.33 L733.29 672.03 L733.44 672.73 L733.60 673.43 L733.60 673.43 L733.75 674.13 L733.91 674.84 L734.06 675.54 L734.22 676.24 L734.37 676.94 L734.37 676.94 L734.53 677.65 L734.68 678.35 L734.84 679.06 L734.99 679.76 L735.15 680.47 L735.15 680.47 L735.30 681.18 L735.45 681.88 L735.61 682.59 L735.76 683.30 L735.92 684.01 L736.07 684.72 L736.23 685.43 L736.38 686.14 L736.54 686.85 L736.69 687.57 L736.69 687.57 L736.85 688.28 L737.00 688.99 L737.16 689.71 L737.31 690.42 L737.47 691.14 L737.47 691.14 L737.62 691.86 L737.78 692.57 L737.93 693.29 L738.09 694.01 L738.24 694.73 L738.24 694.73 L738.39 695.45 L738.55 696.17 L738.70 696.89 L738.86 697.61 L739.01 698.33 L739.01 698.33 L739.17 699.05 L739.32 699.78 L739.48 700.50 L739.63 701.23 L739.79 701.95 L739.94 702.68 L740.10 703.40 L740.25 704.13 L740.41 704.86 L740.56 705.59 L740.56 705.59 L740.72 706.32 L740.87 707.05 L741.03 707.78 L741.18 708.51 L741.34 709.24 L741.34 709.24 L741.49 709.97 L741.64 710.70 L741.80 711.44 L741.95 712.17 L742.11 712.91 L742.11 712.91 L742.26 713.64 L742.42 714.38 L742.57 715.12 L742.73 715.85 L742.88 716.59 L742.88 716.59 L743.04 717.33 L743.19 718.07 L743.35 718.81 L743.50 719.55 L743.66 720.29 L743.81 721.03 L743.97 721.78 L744.12 722.52 L744.28 723.26 L744.43 724.01 L744.43 724.01 L744.58 724.76 L744.74 725.50 L744.89 726.25 L745.05 727.00 L745.20 727.74 L745.20 727.74 L745.36 728.49 L745.51 729.24 L745.67 729.99 L745.82 730.74 L745.98 731.50 L745.98 731.50 L746.13 732.25 L746.29 733.00 L746.44 733.76 L746.60 734.51 L746.75 735.27 L746.75 735.27 L746.91 736.02 L747.06 736.78 L747.22 737.54 L747.37 738.29 L747.52 739.05 L747.68 739.81 L747.83 740.57 L747.99 741.33 L748.14 742.10 L748.30 742.86 L748.30 742.86 L748.45 743.62 L748.61 744.39 L748.76 745.15 L748.92 745.92 L749.07 746.68 L749.07 746.68 L749.23 747.45 L749.38 748.22 L749.54 748.99 L749.69 749.76 L749.85 750.53 L749.85 750.53 L750.00 751.30 L750.16 752.07 L750.31 752.84 L750.47 753.62 L750.62 754.39 L750.62 754.39 L750.77 755.17 L750.93 755.94 L751.08 756.72 L751.24 757.50 L751.39 758.27 L751.55 759.05 L751.70 759.84 L751.86 760.62 L752.01 761.40 L752.17 762.18 L752.17 762.18 L752.32 762.97 L752.48 763.75 L752.63 764.54 L752.79 765.33 L752.94 766.11 L752.94 766.11 L753.10 766.90 L753.25 767.69 L753.41 768.48 L753.56 769.28 L753.72 770.07 L753.72 770.07 L753.87 770.86 L754.02 771.66 L754.18 772.46 L754.33 773.25 L754.49 774.05 L754.49 774.05 L754.64 774.85 L754.80 775.65 L754.95 776.46 L755.11 777.26 L755.26 778.07 L755.42 778.87 L755.57 779.68 L755.73 780.49 L755.88 781.30 L756.04 782.11 L756.04 782.11 L756.19 782.93 L756.35 783.74 L756.50 784.56 L756.66 785.38 L756.81 786.20 L756.81 786.20 L756.96 787.02 L757.12 787.84 L757.27 788.67 L757.43 789.50 L757.58 790.33 L757.58 790.33 L757.74 791.16 L757.89 791.99 L758.05 792.83 L758.20 793.67 L758.36 794.51 L758.36 794.51 L758.51 795.35 L758.67 796.20 L758.82 797.04 L758.98 797.90 L759.13 798.75 L759.29 799.61 L759.44 800.47 L759.60 801.34 L759.75 802.20 L759.90 803.08 L759.91 803.08 L760.06 803.95 L760.21 804.84 L760.37 805.72 L760.52 806.62 L760.68 807.51 L760.68 807.51 L760.83 808.42 L760.99 809.33 L761.14 810.25 L761.30 811.18 L761.45 812.11 L761.45 812.11 L761.61 813.06 L761.76 814.02 L761.92 815.00 L762.07 815.99 L762.23 817.00 L762.23 817.00 L762.38 818.04 L762.54 819.11 L762.69 820.22 L762.85 821.41 L763.00 822.81 L763.15 824.19 L763.31 825.33 L763.46 826.38 L763.62 827.35 L763.77 828.28 L763.77 828.28 L763.93 829.17 L764.08 830.03 L764.24 830.85 L764.39 831.65 L764.55 832.42 L764.55 832.42 L764.70 833.17 L764.86 833.91 L765.01 834.62 L765.17 835.32 L765.32 836.00 L765.32 836.00 L765.48 836.66 L765.63 837.31 L765.79 837.94 L765.94 838.57 L766.10 839.18 L766.10 839.18 L766.25 839.78 L766.40 840.36 L766.56 840.94 L766.71 841.50 L766.87 842.06 L767.02 842.60 L767.18 843.14 L767.33 843.67 L767.49 844.18 L767.64 844.69 L767.64 844.69 L767.80 845.19 L767.95 845.69 L768.11 846.17 L768.26 846.65 L768.42 847.12 L768.42 847.12 L768.57 847.58 L768.73 848.04 L768.88 848.48 L769.04 848.93 L769.19 849.36 L769.19 849.36 L769.34 849.79 L769.50 850.21 L769.65 850.63 L769.81 851.04 L769.96 851.44 L769.96 851.44 L770.12 851.84 L770.27 852.23 L770.43 852.62 L770.58 853.00 L770.74 853.38 L770.89 853.75 L771.05 854.12 L771.20 854.48 L771.36 854.84 L771.51 855.19 L771.51 855.19 L771.67 855.53 L771.82 855.88 L771.98 856.21 L772.13 856.55 L772.29 856.87 L772.29 856.87 L772.44 857.20 L772.59 857.52 L772.75 857.83 L772.90 858.15 L773.06 858.45 L773.06 858.45 L773.21 858.76 L773.37 859.06 L773.52 859.35 L773.68 859.64 L773.83 859.93 L773.83 859.93 L773.99 860.21 L774.14 860.49 L774.30 860.77 L774.45 861.04 L774.61 861.31 L774.76 861.58 L774.92 861.84 L775.07 862.10 L775.23 862.36 L775.38 862.61 L775.38 862.61 L775.53 862.86 L775.69 863.10 L775.84 863.35 L776.00 863.59 L776.15 863.82 L776.15 863.82 L776.31 864.06 L776.46 864.29 L776.62 864.52 L776.77 864.74 L776.93 864.96 L776.93 864.96 L777.08 865.18 L777.24 865.40 L777.39 865.61 L777.55 865.82 L777.70 866.03 L777.70 866.03 L777.86 866.23 L778.01 866.43 L778.17 866.63 L778.32 866.83 L778.47 867.03 L778.63 867.22 L778.78 867.41 L778.94 867.59 L779.09 867.78 L779.25 867.96 L779.25 867.96 L779.40 868.14 L779.56 868.32 L779.71 868.49 L779.87 868.66 L780.02 868.83 L780.02 868.83 L780.18 869.00 L780.33 869.16 L780.49 869.33 L780.64 869.49 L780.80 869.65 L780.80 869.65 L780.95 869.80 L781.11 869.96 L781.26 870.11 L781.42 870.26 L781.57 870.41 L781.57 870.41 L781.72 870.55 L781.88 870.70 L782.03 870.84 L782.19 870.98 L782.34 871.12 L782.50 871.25 L782.65 871.39 L782.81 871.52 L782.96 871.65 L783.12 871.78 L783.12 871.78 L783.27 871.90 L783.43 872.03 L783.58 872.15 L783.74 872.27 L783.89 872.39 L783.89 872.39 L784.05 872.51 L784.20 872.62 L784.36 872.73 L784.51 872.85 L784.66 872.96 L784.67 872.96 L784.82 873.06 L784.97 873.17 L785.13 873.28 L785.28 873.38 L785.44 873.48 L785.44 873.48 L785.59 873.58 L785.75 873.68 L785.90 873.78 L786.06 873.87 L786.21 873.96 L786.37 874.06 L786.52 874.15 L786.68 874.24 L786.83 874.32 L786.99 874.41 L786.99 874.41 L787.14 874.49 L787.30 874.58 L787.45 874.66 L787.61 874.74 L787.76 874.81 L787.76 874.81 L787.91 874.89 L788.07 874.97 L788.22 875.04 L788.38 875.11 L788.53 875.19 L788.53 875.19 L788.69 875.25 L788.84 875.32 L789.00 875.39 L789.15 875.46 L789.31 875.52 L789.31 875.52 L789.46 875.58 L789.62 875.65 L789.77 875.71 L789.93 875.77 L790.08 875.82 L790.24 875.88 L790.39 875.94 L790.55 875.99 L790.70 876.04 L790.85 876.09 L790.86 876.09 L791.01 876.14 L791.16 876.19 L791.32 876.24 L791.47 876.29 L791.63 876.33 L791.63 876.33 L791.78 876.38 L791.94 876.42 L792.09 876.46 L792.25 876.51 L792.40 876.55 L792.40 876.55 L792.56 876.58 L792.71 876.62 L792.87 876.66 L793.02 876.69 L793.18 876.73 L793.18 876.73 L793.33 876.76 L793.49 876.79 L793.64 876.82 L793.80 876.85 L793.95 876.88 L794.10 876.91 L794.26 876.94 L794.41 876.96 L794.57 876.99 L794.72 877.01 L794.72 877.01 L794.88 877.04 L795.03 877.06 L795.19 877.08 L795.34 877.10 L795.50 877.12 L795.50 877.12 L795.65 877.13 L795.81 877.15 L795.96 877.17 L796.12 877.18 L796.27 877.20 L796.27 877.20 L796.43 877.21 L796.58 877.22 L796.74 877.23 L796.89 877.24 L797.05 877.25 L797.05 877.25 L797.20 877.26 L797.35 877.27 L797.51 877.28 L797.66 877.28 L797.82 877.29 L797.97 877.29 L798.13 877.29 L798.28 877.30 L798.44 877.30 L798.59 877.30 L798.59 877.30 L798.75 877.30 L798.90 877.30 L799.06 877.30 L799.21 877.29 L799.37 877.29 L799.37 877.29 L799.52 877.28 L799.68 877.28 L799.83 877.27 L799.99 877.27 L800.14 877.26 L800.14 877.26 L800.29 877.25 L800.45 877.24 L800.60 877.23 L800.76 877.22 L800.91 877.21 L800.91 877.21 L801.07 877.20 L801.22 877.19 L801.38 877.17 L801.53 877.16 L801.69 877.14 L801.84 877.13 L802.00 877.11 L802.15 877.09 L802.31 877.08 L802.46 877.06 L802.46 877.06 L802.62 877.04 L802.77 877.02 L802.93 877.00 L803.08 876.98 L803.24 876.95 L803.24 876.95 L803.39 876.93 L803.54 876.91 L803.70 876.88 L803.85 876.86 L804.01 876.83 L804.01 876.83 L804.16 876.81 L804.32 876.78 L804.47 876.75 L804.63 876.73 L804.78 876.70 L804.78 876.70 L804.94 876.67 L805.09 876.64 L805.25 876.61 L805.40 876.58 L805.56 876.55 L805.71 876.51 L805.87 876.48 L806.02 876.45 L806.18 876.41 L806.33 876.38 L806.33 876.38 L806.48 876.34 L806.64 876.31 L806.79 876.27 L806.95 876.23 L807.10 876.20 L807.10 876.20 L807.26 876.16 L807.41 876.12 L807.57 876.08 L807.72 876.04 L807.88 876.00 L807.88 876.00 L808.03 875.96 L808.19 875.92 L808.34 875.87 L808.50 875.83 L808.65 875.79 L808.65 875.79 L808.81 875.75 L808.96 875.70 L809.12 875.66 L809.27 875.61 L809.42 875.57 L809.58 875.52 L809.73 875.47 L809.89 875.42 L810.04 875.38 L810.20 875.33 L810.20 875.33 L810.35 875.28 L810.51 875.23 L810.66 875.18 L810.82 875.13 L810.97 875.08 L810.97 875.08 L811.13 875.03 L811.28 874.98 L811.44 874.92 L811.59 874.87 L811.75 874.82 L811.75 874.82 L811.90 874.77 L812.06 874.71 L812.21 874.66 L812.37 874.60 L812.52 874.55 L812.52 874.55 L812.67 874.49 L812.83 874.43 L812.98 874.38 L813.14 874.32 L813.29 874.26 L813.45 874.20 L813.60 874.15 L813.76 874.09 L813.91 874.03 L814.07 873.97 L814.07 873.97 L814.22 873.91 L814.38 873.85 L814.53 873.79 L814.69 873.72 L814.84 873.66 L814.84 873.66 L815.00 873.60 L815.15 873.54 L815.31 873.48 L815.46 873.41 L815.62 873.35 L815.62 873.35 L815.77 873.28 L815.92 873.22 L816.08 873.15 L816.23 873.09 L816.39 873.02 L816.39 873.02 L816.54 872.96 L816.70 872.89 L816.85 872.82 L817.01 872.76 L817.16 872.69 L817.32 872.62 L817.47 872.55 L817.63 872.48 L817.78 872.41 L817.94 872.34 L817.94 872.34 L818.09 872.28 L818.25 872.21 L818.40 872.13 L818.56 872.06 L818.71 871.99 L818.71 871.99 L818.86 871.92 L819.02 871.85 L819.17 871.78 L819.33 871.70 L819.48 871.63 L819.48 871.63 L819.64 871.56 L819.79 871.49 L819.95 871.41 L820.10 871.34 L820.26 871.26 L820.26 871.26 L820.41 871.19 L820.57 871.11 L820.72 871.04 L820.88 870.96 L821.03 870.89 L821.19 870.81 L821.34 870.73 L821.50 870.66 L821.65 870.58 L821.80 870.50 L821.81 870.50 L821.96 870.42 L822.11 870.34 L822.27 870.27 L822.42 870.19 L822.58 870.11 L822.58 870.11 L822.73 870.03 L822.89 869.95 L823.04 869.87 L823.20 869.79 L823.35 869.71 L823.35 869.71 L823.51 869.63 L823.66 869.55 L823.82 869.47 L823.97 869.39 L824.13 869.30 L824.13 869.30 L824.28 869.22 L824.44 869.14 L824.59 869.06 L824.75 868.97 L824.90 868.89 L825.05 868.81 L825.21 868.72 L825.36 868.64 L825.52 868.56 L825.67 868.47 L825.67 868.47 L825.83 868.39 L825.98 868.30 L826.14 868.22 L826.29 868.13 L826.45 868.05 L826.45 868.05 L826.60 867.96 L826.76 867.87 L826.91 867.79 L827.07 867.70 L827.22 867.61 L827.22 867.61 L827.38 867.53 L827.53 867.44 L827.69 867.35 L827.84 867.26 L828.00 867.18 L828.00 867.18 L828.15 867.09 L828.30 867.00 L828.46 866.91 L828.61 866.82 L828.77 866.73 L828.92 866.64 L829.08 866.56 L829.23 866.47 L829.39 866.38 L829.54 866.29 L829.54 866.29 L829.70 866.20 L829.85 866.11 L830.01 866.01 L830.16 865.92 L830.32 865.83 L830.32 865.83 L830.47 865.74 L830.63 865.65 L830.78 865.56 L830.94 865.47 L831.09 865.37 L831.09 865.37 L831.24 865.28 L831.40 865.19 L831.55 865.10 L831.71 865.00 L831.86 864.91 L831.86 864.91 L832.02 864.82 L832.17 864.72 L832.33 864.63 L832.48 864.54 L832.64 864.44 L832.79 864.35 L832.95 864.25 L833.10 864.16 L833.26 864.07 L833.41 863.97 L833.41 863.97 L833.57 863.88 L833.72 863.78 L833.88 863.69 L834.03 863.59 L834.18 863.49 L834.18 863.49 L834.34 863.40 L834.49 863.30 L834.65 863.21 L834.80 863.11 L834.96 863.01 L834.96 863.01 L835.11 862.92 L835.27 862.82 L835.42 862.72 L835.58 862.63 L835.73 862.53 L835.73 862.53 L835.89 862.43 L836.04 862.33 L836.20 862.24 L836.35 862.14 L836.51 862.04 L836.66 861.94 L836.82 861.84 L836.97 861.75 L837.13 861.65 L837.28 861.55 L837.28 861.55 L837.43 861.45 L837.59 861.35 L837.74 861.25 L837.90 861.15 L838.05 861.05 L838.05 861.05 L838.21 860.95 L838.36 860.85 L838.52 860.75 L838.67 860.66 L838.83 860.56 L838.83 860.56 L838.98 860.45 L839.14 860.35 L839.29 860.25 L839.45 860.15 L839.60 860.05 L839.60 860.05 L839.76 859.95 L839.91 859.85 L840.07 859.75 L840.22 859.65 L840.38 859.55 L840.53 859.45 L840.68 859.35 L840.84 859.24 L840.99 859.14 L841.15 859.04 L841.15 859.04 L841.30 858.94 L841.46 858.84 L841.61 858.73 L841.77 858.63 L841.92 858.53 L841.92 858.53 L842.08 858.43 L842.23 858.32 L842.39 858.22 L842.54 858.12 L842.70 858.02 L842.70 858.02 L842.85 857.91 L843.01 857.81 L843.16 857.71 L843.32 857.60 L843.47 857.50 L843.47 857.50 L843.62 857.40 L843.78 857.29 L843.93 857.19 L844.09 857.09 L844.24 856.98 L844.40 856.88 L844.55 856.77 L844.71 856.67 L844.86 856.56 L845.02 856.46 L845.02 856.46 L845.17 856.36 L845.33 856.25 L845.48 856.15 L845.64 856.04 L845.79 855.94 L845.79 855.94 L845.95 855.83 L846.10 855.73 L846.26 855.62 L846.41 855.52 L846.57 855.41 L846.57 855.41 L846.72 855.31 L846.87 855.20 L847.03 855.10 L847.18 854.99 L847.34 854.89 L847.34 854.89 L847.49 854.78 L847.65 854.67 L847.80 854.57 L847.96 854.46 L848.11 854.36 L848.27 854.25 L848.42 854.14 L848.58 854.04 L848.73 853.93 L848.89 853.83 L848.89 853.83 L849.04 853.72 L849.20 853.61 L849.35 853.51 L849.51 853.40 L849.66 853.29 L849.66 853.29 L849.81 853.19 L849.97 853.08 L850.12 852.97 L850.28 852.87 L850.43 852.76 L850.43 852.76 L850.59 852.65 L850.74 852.55 L850.90 852.44 L851.05 852.33 L851.21 852.22 L851.21 852.22 L851.36 852.12 L851.52 852.01 L851.67 851.90 L851.83 851.79 L851.98 851.69 L852.14 851.58 L852.29 851.47 L852.45 851.36 L852.60 851.26 L852.75 851.15 L852.75 851.15 L852.91 851.04 L853.06 850.93 L853.22 850.83 L853.37 850.72 L853.53 850.61 L853.53 850.61 L853.68 850.50 L853.84 850.39 L853.99 850.29 L854.15 850.18 L854.30 850.07 L854.30 850.07 L854.46 849.96 L854.61 849.85 L854.77 849.74 L854.92 849.64 L855.08 849.53 L855.08 849.53 L855.23 849.42 L855.39 849.31 L855.54 849.20 L855.70 849.09 L855.85 848.98 L856.62 848.44 L857.40 847.90 L858.17 847.35 L858.95 846.81 L859.72 846.26 L860.49 845.71 L861.27 845.16 L862.04 844.62 L862.81 844.07 L863.59 843.52 L864.36 842.97 L865.13 842.42 L865.91 841.87 L866.68 841.32 L867.46 840.78 L868.23 840.23 L869.00 839.68 L869.78 839.13 L870.55 838.58 L871.33 838.03 L872.10 837.48 L872.87 836.94 L873.65 836.39 L874.42 835.84 L875.19 835.30 L875.97 834.75 L876.74 834.20 L877.51 833.66 L878.29 833.12 L879.06 832.57 L879.84 832.03 L880.61 831.49 L881.38 830.95 L882.16 830.41 L882.93 829.87 L883.71 829.33 L884.48 828.79 L885.25 828.25 L886.03 827.72 L886.80 827.18 L887.57 826.65 L888.35 826.12 L889.12 825.58 L889.90 825.05 L890.67 824.52 L891.44 824.00 L892.22 823.47 L892.99 822.94 L893.76 822.42 L894.54 821.89 L895.31 821.37 L896.09 820.85 L896.86 820.33 L897.63 819.81 L898.41 819.29 L899.18 818.78 L899.95 818.26 L900.73 817.75 L901.50 817.24 L902.28 816.73 L903.05 816.22 L903.82 815.71 L904.60 815.21 L905.37 814.70 L906.14 814.20 L906.92 813.70 L907.69 813.20 L908.47 812.70 L909.24 812.20 L910.01 811.70 L910.79 811.21 L911.56 810.72 L912.33 810.23 L913.11 809.74 L913.88 809.25 L914.66 808.76 L915.43 808.28 L916.20 807.80 L916.98 807.31 L917.75 806.83 L918.52 806.36 L919.30 805.88 L920.07 805.41 L920.85 804.93 L921.62 804.46 L922.39 803.99 L923.17 803.52 L923.94 803.06 L924.71 802.59 L925.49 802.13 L926.26 801.67 L927.04 801.21 L927.81 800.75 L928.58 800.29 L929.36 799.84 L930.13 799.38 L930.90 798.93 L931.68 798.48 L932.45 798.03 L933.22 797.59 L934.00 797.14 L934.77 796.70 L935.55 796.26 L936.32 795.82 L937.09 795.38 L937.87 794.95 L938.64 794.51 L939.42 794.08 L940.19 793.65 L940.96 793.22 L941.74 792.79 L942.51 792.37 L943.28 791.94 L944.06 791.52 L944.83 791.10 L945.61 790.68 L946.38 790.27 L947.15 789.85 L947.93 789.44 L948.70 789.03 L949.47 788.62 L950.25 788.21 L951.02 787.80 L951.80 787.40 L952.57 786.99 L953.34 786.59 L954.12 786.19 L954.89 785.80 L955.66 785.40 L956.44 785.00 L957.21 784.61 L957.99 784.22 L958.76 783.83 L959.53 783.44 L960.31 783.06 L961.08 782.67 L961.85 782.29 L962.63 781.91 L963.40 781.53 L964.17 781.15 L964.95 780.78 L965.72 780.40 L966.50 780.03 L967.27 779.66 L968.04 779.29 L968.82 778.92 L969.59 778.56 L970.37 778.19 L971.14 777.83 L971.91 777.47 L972.69 777.11 L973.46 776.75 L974.23 776.40 L975.01 776.04 L975.78 775.69 L976.56 775.34 L977.33 774.99 L978.10 774.64 L978.88 774.29 L979.65 773.95 L980.42 773.61 L981.20 773.26 L981.97 772.93 L982.75 772.59 L983.52 772.25 L984.29 771.92 L985.07 771.58 L985.84 771.25 L986.61 770.92 L987.39 770.59 L988.16 770.26 L988.93 769.94 L989.71 769.61 L990.48 769.29 L991.26 768.97 L992.03 768.65 L992.80 768.33 L993.58 768.02 L994.35 767.70 L995.12 767.39 L995.90 767.08 L996.67 766.77 L997.45 766.46 L998.22 766.15 L998.99 765.84 L999.77 765.54 L1000.54 765.24 L1001.32 764.93 L1002.09 764.63 L1002.86 764.34 L1003.64 764.04 L1004.41 763.74 L1005.18 763.45 L1005.96 763.16 L1006.73 762.87 L1007.50 762.58 L1008.28 762.29 L1009.05 762.00 L1009.83 761.71 L1010.60 761.43 L1011.37 761.15 L1012.15 760.87 L1012.92 760.59 L1013.70 760.31 L1014.47 760.03 L1015.24 759.75 L1016.02 759.48 L1016.79 759.21 L1017.56 758.94 L1018.34 758.67 L1019.11 758.40 L1019.88 758.13 L1020.66 757.86 L1021.43 757.60 L1022.21 757.33 L1022.98 757.07 L1023.75 756.81 L1024.53 756.55 L1025.30 756.29 L1026.08 756.04 L1026.85 755.78 L1027.62 755.53 L1028.40 755.27 L1029.17 755.02 L1029.94 754.77 L1030.72 754.52 L1031.49 754.27 L1032.26 754.03 L1033.04 753.78 L1033.81 753.54 L1034.59 753.29 L1035.36 753.05 L1036.13 752.81 L1036.91 752.57 L1037.68 752.34 L1038.45 752.10 L1039.23 751.86 L1040.00 751.63 L1040.78 751.40 L1041.55 751.16 L1042.32 750.93 L1043.10 750.70 L1043.87 750.47 L1044.64 750.25 L1045.42 750.02 L1046.19 749.80 L1046.97 749.57 L1047.74 749.35 L1048.51 749.13 L1049.29 748.91 L1050.06 748.69 L1050.84 748.47 L1051.61 748.26 L1052.38 748.04 L1053.16 747.83 L1053.93 747.61 L1054.70 747.40 L1055.48 747.19 L1056.25 746.98 L1057.03 746.77 L1057.80 746.56 L1058.57 746.35 L1059.35 746.15 L1060.12 745.94 L1060.89 745.74 L1061.67 745.54 L1062.44 745.34 L1063.22 745.14 L1063.99 744.94 L1064.76 744.74 L1065.54 744.54 L1066.31 744.35 L1067.08 744.15 L1067.86 743.96 L1068.63 743.76 L1069.41 743.57 L1070.18 743.38 L1070.95 743.19 L1071.73 743.00 L1072.50 742.81 L1073.27 742.63 L1074.05 742.44 L1074.82 742.26 L1075.60 742.07 L1076.37 741.89 L1077.14 741.71 L1077.92 741.53 L1078.69 741.35 L1079.46 741.17 L1080.24 740.99 L1081.01 740.81 L1081.79 740.63 L1082.56 740.46 L1083.33 740.28 L1084.11 740.11 L1084.88 739.94 L1085.65 739.77 L1086.43 739.60 L1087.20 739.43 L1087.97 739.26 L1088.75 739.09 L1089.52 738.92 L1090.30 738.76 L1091.07 738.59 L1091.84 738.43 L1092.62 738.26 L1093.39 738.10 L1094.16 737.94 L1094.94 737.78 L1095.71 737.62 L1096.49 737.46 L1097.26 737.30 L1098.03 737.14 L1098.81 736.99 L1099.58 736.83 L1100.36 736.67 L1101.13 736.52 L1101.90 736.37 L1102.68 736.21 L1103.45 736.06 L1104.22 735.91 L1105.00 735.76 L1105.77 735.61 L1106.55 735.46 L1107.32 735.32 L1108.09 735.17 L1108.87 735.02 L1109.64 734.88 L1110.41 734.73 L1111.19 734.59 L1111.96 734.45 L1112.74 734.31 L1113.51 734.16 L1114.28 734.02 L1115.06 733.88 L1115.83 733.75 L1116.60 733.61 L1117.38 733.47 L1118.15 733.33 L1118.92 733.20 L1119.70 733.06 L1120.47 732.93 L1121.25 732.79 L1122.02 732.66 L1122.79 732.53 L1123.57 732.40 L1124.34 732.27 L1125.12 732.14 L1125.89 732.01 L1126.66 731.88 L1127.44 731.75 L1128.21 731.62 L1128.98 731.49 L1129.76 731.37 L1130.53 731.24 L1131.31 731.12 L1132.08 731.00 L1132.85 730.87 L1133.63 730.75 L1134.40 730.63 L1135.17 730.51 L1135.95 730.39 L1136.72 730.27 L1137.49 730.15 L1138.27 730.03 L1139.04 729.91 L1139.82 729.79 L1140.59 729.68 L1141.36 729.56 L1142.14 729.45 L1142.91 729.33 L1143.69 729.22 L1144.46 729.10 L1145.23 728.99 L1146.01 728.88 L1146.78 728.77 L1147.55 728.66 L1148.33 728.54 L1149.10 728.44 L1149.88 728.33 L1150.65 728.22 L1151.42 728.11 L1152.20 728.00 L1152.97 727.90 L1153.74 727.79 L1154.52 727.68 L1155.29 727.58 L1156.07 727.47 L1156.84 727.37 L1157.61 727.27 L1158.39 727.16 L1159.16 727.06 L1159.93 726.96 L1160.71 726.86 L1161.48 726.76 L1162.26 726.66 L1163.03 726.56 L1163.80 726.46 L1164.58 726.36 L1165.35 726.27 L1166.12 726.17 L1166.90 726.07 L1167.67 725.98 L1168.44 725.88 L1169.22 725.79 L1169.99 725.69 L1170.77 725.60 L1171.54 725.50 L1172.31 725.41 L1173.09 725.32 L1173.86 725.23 L1174.64 725.13 L1175.41 725.04 L1176.18 724.95 L1176.96 724.86 L1177.73 724.77 L1178.50 724.69 L1179.28 724.60 L1180.05 724.51 L1180.83 724.42 L1181.60 724.33 L1182.37 724.25 L1183.15 724.16 L1183.92 724.08 L1184.69 723.99 L1185.47 723.91 L1186.24 723.82 L1187.02 723.74 L1187.79 723.66 L1188.56 723.57 L1189.34 723.49 L1190.11 723.41 L1190.88 723.33 L1191.66 723.25 L1192.43 723.17 L1193.20 723.09 L1193.98 723.01 L1194.75 722.93 L1195.53 722.85 L1196.30 722.77 L1197.07 722.69 L1197.85 722.62 L1198.62 722.54 L1199.39 722.46 L1200.17 722.39 L1200.94 722.31 L1201.72 722.24 L1202.49 722.16 L1203.26 722.09 L1204.04 722.01 L1204.81 721.94 L1205.59 721.87 L1206.36 721.80 L1207.13 721.72 L1207.91 721.65 L1208.68 721.58 L1209.45 721.51 L1210.23 721.44 L1211.00 721.37 L1211.78 721.30 L1212.55 721.23 L1213.32 721.16 L1214.10 721.09 L1214.87 721.02 L1215.64 720.95 L1216.42 720.89 L1217.19 720.82 L1217.97 720.75 L1218.74 720.69 L1219.51 720.62 L1220.29 720.56 L1221.06 720.49 L1221.83 720.43 L1222.61 720.36 L1223.38 720.30 L1224.15 720.23 L1224.93 720.17 L1225.70 720.11 L1226.48 720.04 L1227.25 719.98 L1228.02 719.92 L1228.80 719.86 L1229.57 719.80 L1230.35 719.73 L1231.12 719.67 L1231.89 719.61 L1232.67 719.55 L1233.44 719.49 L1234.21 719.43 L1234.99 719.38 L1235.76 719.32 L1236.54 719.26 L1237.31 719.20 L1238.08 719.14 L1238.86 719.09 L1239.63 719.03 L1240.40 718.97 L1241.18 718.92 L1241.95 718.86 L1242.72 718.80 L1243.50 718.75 L1244.27 718.69 L1245.05 718.64 L1245.82 718.58 L1246.59 718.53 L1247.37 718.48 L1248.14 718.42 L1248.92 718.37 L1249.69 718.32 L1250.46 718.26 L1251.24 718.21 L1252.01 718.16 L1252.78 718.11 L1253.56 718.06 L1254.33 718.00 L1255.11 717.95 L1255.88 717.90 L1256.65 717.85 L1257.43 717.80 L1258.20 717.75 L1258.97 717.70 L1259.75 717.65 L1260.52 717.60 L1261.30 717.56 L1262.07 717.51 L1262.84 717.46 L1263.62 717.41 L1264.39 717.36 L1265.16 717.32 L1265.94 717.27 L1266.71 717.22 L1267.49 717.18 L1268.26 717.13 L1269.03 717.08 L1269.81 717.04 L1270.58 716.99 L1271.35 716.95 L1272.13 716.90 L1272.90 716.86 L1273.67 716.81 L1274.45 716.77 L1275.22 716.73 L1276.00 716.68 L1276.77 716.64 L1277.54 716.60 L1278.32 716.55 L1279.09 716.51 L1279.87 716.47 L1280.64 716.42 L1281.41 716.38 L1282.19 716.34 L1282.96 716.30 L1283.73 716.26 L1284.51 716.22 L1285.28 716.18 L1286.06 716.14 L1286.83 716.10 L1287.60 716.06 L1288.38 716.02 L1289.15 715.98 L1289.92 715.94 L1290.70 715.90 L1291.47 715.86 L1292.24 715.82 L1293.02 715.78 L1293.79 715.74 L1294.57 715.70 L1295.34 715.67 L1296.11 715.63 L1296.89 715.59 L1297.66 715.55 L1298.44 715.52 L1299.21 715.48 L1299.98 715.44 L1300.76 715.41 L1301.53 715.37 L1302.30 715.33 L1303.08 715.30 L1303.85 715.26 L1304.62 715.23 L1305.40 715.19 L1306.17 715.16 L1306.95 715.12 L1307.72 715.09 L1308.49 715.05 L1309.27 715.02 L1310.04 714.98 L1310.82 714.95 L1311.59 714.92 L1312.36 714.88 L1313.14 714.85 L1313.91 714.82 L1314.68 714.78 L1315.46 714.75 L1316.23 714.72 L1317.01 714.69 L1317.78 714.66 L1318.55 714.62 L1319.33 714.59 L1320.10 714.56 L1320.87 714.53 L1321.65 714.50 L1322.42 714.47 L1323.19 714.44 L1323.97 714.40 L1324.74 714.37 L1325.52 714.34 L1326.29 714.31 L1327.06 714.28 L1327.84 714.25 L1328.61 714.22 L1329.39 714.19 L1330.16 714.16 L1330.93 714.14 L1331.71 714.11 L1332.48 714.08 L1333.25 714.05 L1334.03 714.02 L1334.80 713.99 L1335.58 713.96 L1336.35 713.94 L1337.12 713.91 L1337.90 713.88 L1338.67 713.85 L1339.44 713.83 L1340.22 713.80 L1340.99 713.77 L1341.77 713.74 L1342.54 713.72 L1343.31 713.69 L1344.09 713.66 L1344.86 713.64 L1345.63 713.61 L1346.41 713.59 L1347.18 713.56 L1347.96 713.53 L1348.73 713.51 L1349.50 713.48 L1350.28 713.46 L1351.05 713.43 L1351.82 713.41 L1352.60 713.38 L1353.37 713.36 L1354.14 713.33 L1354.92 713.31 L1355.69 713.28 L1356.47 713.26 L1357.24 713.24 L1358.01 713.21 L1358.79 713.19 L1359.56 713.17 L1360.34 713.14 L1361.11 713.12 L1361.88 713.09 L1362.66 713.07 L1363.43 713.05 L1364.20 713.03 L1364.98 713.00 L1365.75 712.98 L1366.53 712.96 L1367.30 712.94 L1368.07 712.91 L1368.85 712.89 L1369.62 712.87 L1370.39 712.85 L1371.17 712.83 L1371.94 712.80 L1372.72 712.78 L1373.49 712.76 L1374.26 712.74 L1375.04 712.72 L1375.81 712.70 L1376.58 712.68 L1377.36 712.66 L1378.13 712.64 L1378.91 712.62 L1379.68 712.60 L1380.45 712.58 L1381.23 712.56 L1382.00 712.54" stroke="#D95319" stroke-dasharray="22.7 22.915"/>
<path d="M144.00 712.54 L144.77 712.56 L145.55 712.58 L146.32 712.60 L147.10 712.62 L147.87 712.64 L148.64 712.66 L149.42 712.68 L150.19 712.70 L150.96 712.72 L151.74 712.74 L152.51 712.76 L153.29 712.78 L154.06 712.80 L154.83 712.83 L155.61 712.85 L156.38 712.87 L157.15 712.89 L157.93 712.91 L158.70 712.94 L159.47 712.96 L160.25 712.98 L161.02 713.00 L161.80 713.03 L162.57 713.05 L163.34 713.07 L164.12 713.09 L164.89 713.12 L165.66 713.14 L166.44 713.17 L167.21 713.19 L167.99 713.21 L168.76 713.24 L169.53 713.26 L170.31 713.28 L171.08 713.31 L171.85 713.33 L172.63 713.36 L173.40 713.38 L174.18 713.41 L174.95 713.43 L175.72 713.46 L176.50 713.48 L177.27 713.51 L178.05 713.53 L178.82 713.56 L179.59 713.59 L180.37 713.61 L181.14 713.64 L181.91 713.66 L182.69 713.69 L183.46 713.72 L184.24 713.74 L185.01 713.77 L185.78 713.80 L186.56 713.83 L187.33 713.85 L188.10 713.88 L188.88 713.91 L189.65 713.94 L190.43 713.96 L191.20 713.99 L191.97 714.02 L192.75 714.05 L193.52 714.08 L194.29 714.11 L195.07 714.14 L195.84 714.16 L196.61 714.19 L197.39 714.22 L198.16 714.25 L198.94 714.28 L199.71 714.31 L200.48 714.34 L201.26 714.37 L202.03 714.40 L202.80 714.44 L203.58 714.47 L204.35 714.50 L205.13 714.53 L205.90 714.56 L206.67 714.59 L207.45 714.62 L208.22 714.66 L209.00 714.69 L209.77 714.72 L210.54 714.75 L211.32 714.78 L212.09 714.82 L212.86 714.85 L213.64 714.88 L214.41 714.92 L215.19 714.95 L215.96 714.98 L216.73 715.02 L217.51 715.05 L218.28 715.09 L219.05 715.12 L219.83 715.16 L220.60 715.19 L221.38 715.23 L222.15 715.26 L222.92 715.30 L223.70 715.33 L224.47 715.37 L225.24 715.41 L226.02 715.44 L226.79 715.48 L227.56 715.52 L228.34 715.55 L229.11 715.59 L229.89 715.63 L230.66 715.67 L231.43 715.70 L232.21 715.74 L232.98 715.78 L233.75 715.82 L234.53 715.86 L235.30 715.90 L236.08 715.94 L236.85 715.98 L237.62 716.02 L238.40 716.06 L239.17 716.10 L239.95 716.14 L240.72 716.18 L241.49 716.22 L242.27 716.26 L243.04 716.30 L243.81 716.34 L244.59 716.38 L245.36 716.42 L246.14 716.47 L246.91 716.51 L247.68 716.55 L248.46 716.60 L249.23 716.64 L250.00 716.68 L250.78 716.73 L251.55 716.77 L252.32 716.81 L253.10 716.86 L253.87 716.90 L254.65 716.95 L255.42 716.99 L256.19 717.04 L256.97 717.08 L257.74 717.13 L258.51 717.18 L259.29 717.22 L260.06 717.27 L260.84 717.32 L261.61 717.36 L262.38 717.41 L263.16 717.46 L263.93 717.51 L264.70 717.56 L265.48 717.60 L266.25 717.65 L267.03 717.70 L267.80 717.75 L268.57 717.80 L269.35 717.85 L270.12 717.90 L270.90 717.95 L271.67 718.00 L272.44 718.06 L273.22 718.11 L273.99 718.16 L274.76 718.21 L275.54 718.26 L276.31 718.32 L277.09 718.37 L277.86 718.42 L278.63 718.48 L279.41 718.53 L280.18 718.58 L280.95 718.64 L281.73 718.69 L282.50 718.75 L283.27 718.80 L284.05 718.86 L284.82 718.92 L285.60 718.97 L286.37 719.03 L287.14 719.09 L287.92 719.14 L288.69 719.20 L289.46 719.26 L290.24 719.32 L291.01 719.38 L291.79 719.43 L292.56 719.49 L293.33 719.55 L294.11 719.61 L294.88 719.67 L295.65 719.73 L296.43 719.80 L297.20 719.86 L297.98 719.92 L298.75 719.98 L299.52 720.04 L300.30 720.11 L301.07 720.17 L301.85 720.23 L302.62 720.30 L303.39 720.36 L304.17 720.43 L304.94 720.49 L305.71 720.56 L306.49 720.62 L307.26 720.69 L308.03 720.75 L308.81 720.82 L309.58 720.89 L310.36 720.95 L311.13 721.02 L311.90 721.09 L312.68 721.16 L313.45 721.23 L314.23 721.30 L315.00 721.37 L315.77 721.44 L316.55 721.51 L317.32 721.58 L318.09 721.65 L318.87 721.72 L319.64 721.80 L320.41 721.87 L321.19 721.94 L321.96 722.01 L322.74 722.09 L323.51 722.16 L324.28 722.24 L325.06 722.31 L325.83 722.39 L326.61 722.46 L327.38 722.54 L328.15 722.62 L328.93 722.69 L329.70 722.77 L330.47 722.85 L331.25 722.93 L332.02 723.01 L332.80 723.09 L333.57 723.17 L334.34 723.25 L335.12 723.33 L335.89 723.41 L336.66 723.49 L337.44 723.57 L338.21 723.66 L338.99 723.74 L339.76 723.82 L340.53 723.91 L341.31 723.99 L342.08 724.08 L342.85 724.16 L343.63 724.25 L344.40 724.33 L345.18 724.42 L345.95 724.51 L346.72 724.60 L347.50 724.69 L348.27 724.77 L349.04 724.86 L349.82 724.95 L350.59 725.04 L351.37 725.13 L352.14 725.23 L352.91 725.32 L353.69 725.41 L354.46 725.50 L355.23 725.60 L356.01 725.69 L356.78 725.79 L357.56 725.88 L358.33 725.98 L359.10 726.07 L359.88 726.17 L360.65 726.27 L361.42 726.36 L362.20 726.46 L362.97 726.56 L363.75 726.66 L364.52 726.76 L365.29 726.86 L366.07 726.96 L366.84 727.06 L367.61 727.16 L368.39 727.27 L369.16 727.37 L369.94 727.47 L370.71 727.58 L371.48 727.68 L372.26 727.79 L373.03 727.90 L373.80 728.00 L374.58 728.11 L375.35 728.22 L376.12 728.33 L376.90 728.44 L377.67 728.54 L378.45 728.66 L379.22 728.77 L379.99 728.88 L380.77 728.99 L381.54 729.10 L382.31 729.22 L383.09 729.33 L383.86 729.45 L384.64 729.56 L385.41 729.68 L386.18 729.79 L386.96 729.91 L387.73 730.03 L388.50 730.15 L389.28 730.27 L390.05 730.39 L390.83 730.51 L391.60 730.63 L392.37 730.75 L393.15 730.87 L393.92 731.00 L394.69 731.12 L395.47 731.24 L396.24 731.37 L397.02 731.49 L397.79 731.62 L398.56 731.75 L399.34 731.88 L400.11 732.01 L400.89 732.14 L401.66 732.27 L402.43 732.40 L403.21 732.53 L403.98 732.66 L404.75 732.79 L405.53 732.93 L406.30 733.06 L407.07 733.20 L407.85 733.33 L408.62 733.47 L409.40 733.61 L410.17 733.75 L410.94 733.88 L411.72 734.02 L412.49 734.16 L413.27 734.31 L414.04 734.45 L414.81 734.59 L415.59 734.73 L416.36 734.88 L417.13 735.02 L417.91 735.17 L418.68 735.32 L419.45 735.46 L420.23 735.61 L421.00 735.76 L421.78 735.91 L422.55 736.06 L423.32 736.21 L424.10 736.37 L424.87 736.52 L425.64 736.67 L426.42 736.83 L427.19 736.99 L427.97 737.14 L428.74 737.30 L429.51 737.46 L430.29 737.62 L431.06 737.78 L431.84 737.94 L432.61 738.10 L433.38 738.26 L434.16 738.43 L434.93 738.59 L435.70 738.76 L436.48 738.92 L437.25 739.09 L438.02 739.26 L438.80 739.43 L439.57 739.60 L440.35 739.77 L441.12 739.94 L441.89 740.11 L442.67 740.28 L443.44 740.46 L444.22 740.63 L444.99 740.81 L445.76 740.99 L446.54 741.17 L447.31 741.35 L448.08 741.53 L448.86 741.71 L449.63 741.89 L450.40 742.07 L451.18 742.26 L451.95 742.44 L452.73 742.63 L453.50 742.81 L454.27 743.00 L455.05 743.19 L455.82 743.38 L456.60 743.57 L457.37 743.76 L458.14 743.96 L458.92 744.15 L459.69 744.35 L460.46 744.54 L461.24 744.74 L462.01 744.94 L462.79 745.14 L463.56 745.34 L464.33 745.54 L465.11 745.74 L465.88 745.94 L466.65 746.15 L467.43 746.35 L468.20 746.56 L468.98 746.77 L469.75 746.98 L470.52 747.19 L471.30 747.40 L472.07 747.61 L472.84 747.83 L473.62 748.04 L474.39 748.26 L475.17 748.47 L475.94 748.69 L476.71 748.91 L477.49 749.13 L478.26 749.35 L479.03 749.57 L479.81 749.80 L480.58 750.02 L481.36 750.25 L482.13 750.47 L482.90 750.70 L483.68 750.93 L484.45 751.16 L485.22 751.40 L486.00 751.63 L486.77 751.86 L487.55 752.10 L488.32 752.34 L489.09 752.57 L489.87 752.81 L490.64 753.05 L491.41 753.29 L492.19 753.54 L492.96 753.78 L493.74 754.03 L494.51 754.27 L495.28 754.52 L496.06 754.77 L496.83 755.02 L497.60 755.27 L498.38 755.53 L499.15 755.78 L499.92 756.04 L500.70 756.29 L501.47 756.55 L502.25 756.81 L503.02 757.07 L503.79 757.33 L504.57 757.60 L505.34 757.86 L506.12 758.13 L506.89 758.40 L507.66 758.67 L508.44 758.94 L509.21 759.21 L509.98 759.48 L510.76 759.75 L511.53 760.03 L512.31 760.31 L513.08 760.59 L513.85 760.87 L514.63 761.15 L515.40 761.43 L516.17 761.71 L516.95 762.00 L517.72 762.29 L518.50 762.58 L519.27 762.87 L520.04 763.16 L520.82 763.45 L521.59 763.74 L522.36 764.04 L523.14 764.34 L523.91 764.63 L524.68 764.93 L525.46 765.24 L526.23 765.54 L527.01 765.84 L527.78 766.15 L528.55 766.46 L529.33 766.77 L530.10 767.08 L530.88 767.39 L531.65 767.70 L532.42 768.02 L533.20 768.33 L533.97 768.65 L534.74 768.97 L535.52 769.29 L536.29 769.61 L537.07 769.94 L537.84 770.26 L538.61 770.59 L539.39 770.92 L540.16 771.25 L540.93 771.58 L541.71 771.92 L542.48 772.25 L543.25 772.59 L544.03 772.93 L544.80 773.26 L545.58 773.61 L546.35 773.95 L547.12 774.29 L547.90 774.64 L548.67 774.99 L549.44 775.34 L550.22 775.69 L550.99 776.04 L551.77 776.40 L552.54 776.75 L553.31 777.11 L554.09 777.47 L554.86 777.83 L555.63 778.19 L556.41 778.56 L557.18 778.92 L557.96 779.29 L558.73 779.66 L559.50 780.03 L560.28 780.40 L561.05 780.78 L561.83 781.15 L562.60 781.53 L563.37 781.91 L564.15 782.29 L564.92 782.67 L565.69 783.06 L566.47 783.44 L567.24 783.83 L568.02 784.22 L568.79 784.61 L569.56 785.00 L570.34 785.40 L571.11 785.80 L571.88 786.19 L572.66 786.59 L573.43 786.99 L574.21 787.40 L574.98 787.80 L575.75 788.21 L576.53 788.62 L577.30 789.03 L578.07 789.44 L578.85 789.85 L579.62 790.27 L580.39 790.68 L581.17 791.10 L581.94 791.52 L582.72 791.94 L583.49 792.37 L584.26 792.79 L585.04 793.22 L585.81 793.65 L586.59 794.08 L587.36 794.51 L588.13 794.95 L588.91 795.38 L589.68 795.82 L590.45 796.26 L591.23 796.70 L592.00 797.14 L592.77 797.59 L593.55 798.03 L594.32 798.48 L595.10 798.93 L595.87 799.38 L596.64 799.84 L597.42 800.29 L598.19 800.75 L598.97 801.21 L599.74 801.67 L600.51 802.13 L601.29 802.59 L602.06 803.06 L602.83 803.52 L603.61 803.99 L604.38 804.46 L605.15 804.93 L605.93 805.41 L606.70 805.88 L607.48 806.36 L608.25 806.83 L609.02 807.31 L609.80 807.80 L610.57 808.28 L611.35 808.76 L612.12 809.25 L612.89 809.74 L613.67 810.23 L614.44 810.72 L615.21 811.21 L615.99 811.70 L616.76 812.20 L617.54 812.70 L618.31 813.20 L619.08 813.70 L619.86 814.20 L620.63 814.70 L621.40 815.21 L622.18 815.71 L622.95 816.22 L623.73 816.73 L624.50 817.24 L625.27 817.75 L626.05 818.26 L626.82 818.78 L627.59 819.29 L628.37 819.81 L629.14 820.33 L629.91 820.85 L630.69 821.37 L631.46 821.89 L632.24 822.42 L633.01 822.94 L633.78 823.47 L634.56 824.00 L635.33 824.52 L636.11 825.05 L636.88 825.58 L637.65 826.12 L638.43 826.65 L639.20 827.18 L639.97 827.72 L640.75 828.25 L641.52 828.79 L642.30 829.33 L643.07 829.87 L643.84 830.41 L644.62 830.95 L645.39 831.49 L646.16 832.03 L646.94 832.57 L647.71 833.12 L648.49 833.66 L649.26 834.20 L650.03 834.75 L650.81 835.30 L651.58 835.84 L652.35 836.39 L653.13 836.94 L653.90 837.48 L654.67 838.03 L655.45 838.58 L656.22 839.13 L657.00 839.68 L657.77 840.23 L658.54 840.78 L659.32 841.32 L660.09 841.87 L660.87 842.42 L661.64 842.97 L662.41 843.52 L663.19 844.07 L663.96 844.62 L664.73 845.16 L665.51 845.71 L666.28 846.26 L667.06 846.81 L667.83 847.35 L668.60 847.90 L669.38 848.44 L670.15 848.98 L670.30 849.09 L670.46 849.20 L670.61 849.31 L670.77 849.42 L670.92 849.53 L670.92 849.53 L671.08 849.64 L671.23 849.74 L671.39 849.85 L671.54 849.96 L671.70 850.07 L671.70 850.07 L671.85 850.18 L672.01 850.29 L672.16 850.39 L672.32 850.50 L672.47 850.61 L672.47 850.61 L672.63 850.72 L672.78 850.83 L672.94 850.93 L673.09 851.04 L673.25 851.15 L673.25 851.15 L673.40 851.26 L673.55 851.36 L673.71 851.47 L673.86 851.58 L674.02 851.69 L674.17 851.79 L674.33 851.90 L674.48 852.01 L674.64 852.12 L674.79 852.22 L674.79 852.22 L674.95 852.33 L675.10 852.44 L675.26 852.55 L675.41 852.65 L675.57 852.76 L675.57 852.76 L675.72 852.87 L675.88 852.97 L676.03 853.08 L676.19 853.19 L676.34 853.29 L676.34 853.29 L676.49 853.40 L676.65 853.51 L676.80 853.61 L676.96 853.72 L677.11 853.83 L677.11 853.83 L677.27 853.93 L677.42 854.04 L677.58 854.14 L677.73 854.25 L677.89 854.36 L678.04 854.46 L678.20 854.57 L678.35 854.67 L678.51 854.78 L678.66 854.89 L678.66 854.89 L678.82 854.99 L678.97 855.10 L679.13 855.20 L679.28 855.31 L679.43 855.41 L679.43 855.41 L679.59 855.52 L679.74 855.62 L679.90 855.73 L680.05 855.83 L680.21 855.94 L680.21 855.94 L680.36 856.04 L680.52 856.15 L680.67 856.25 L680.83 856.36 L680.98 856.46 L680.98 856.46 L681.14 856.56 L681.29 856.67 L681.45 856.77 L681.60 856.88 L681.76 856.98 L681.91 857.09 L682.07 857.19 L682.22 857.29 L682.38 857.40 L682.53 857.50 L682.53 857.50 L682.68 857.60 L682.84 857.71 L682.99 857.81 L683.15 857.91 L683.30 858.02 L683.30 858.02 L683.46 858.12 L683.61 858.22 L683.77 858.32 L683.92 858.43 L684.08 858.53 L684.08 858.53 L684.23 858.63 L684.39 858.73 L684.54 858.84 L684.70 858.94 L684.85 859.04 L684.85 859.04 L685.01 859.14 L685.16 859.24 L685.32 859.35 L685.47 859.45 L685.62 859.55 L685.78 859.65 L685.93 859.75 L686.09 859.85 L686.24 859.95 L686.40 860.05 L686.40 860.05 L686.55 860.15 L686.71 860.25 L686.86 860.35 L687.02 860.45 L687.17 860.56 L687.17 860.56 L687.33 860.66 L687.48 860.75 L687.64 860.85 L687.79 860.95 L687.95 861.05 L687.95 861.05 L688.10 861.15 L688.26 861.25 L688.41 861.35 L688.57 861.45 L688.72 861.55 L688.72 861.55 L688.87 861.65 L689.03 861.75 L689.18 861.84 L689.34 861.94 L689.49 862.04 L689.65 862.14 L689.80 862.24 L689.96 862.33 L690.11 862.43 L690.27 862.53 L690.27 862.53 L690.42 862.63 L690.58 862.72 L690.73 862.82 L690.89 862.92 L691.04 863.01 L691.04 863.01 L691.20 863.11 L691.35 863.21 L691.51 863.30 L691.66 863.40 L691.82 863.49 L691.82 863.49 L691.97 863.59 L692.12 863.69 L692.28 863.78 L692.43 863.88 L692.59 863.97 L692.59 863.97 L692.74 864.07 L692.90 864.16 L693.05 864.25 L693.21 864.35 L693.36 864.44 L693.52 864.54 L693.67 864.63 L693.83 864.72 L693.98 864.82 L694.14 864.91 L694.14 864.91 L694.29 865.00 L694.45 865.10 L694.60 865.19 L694.76 865.28 L694.91 865.37 L694.91 865.37 L695.06 865.47 L695.22 865.56 L695.37 865.65 L695.53 865.74 L695.68 865.83 L695.68 865.83 L695.84 865.92 L695.99 866.01 L696.15 866.11 L696.30 866.20 L696.46 866.29 L696.46 866.29 L696.61 866.38 L696.77 866.47 L696.92 866.56 L697.08 866.64 L697.23 866.73 L697.39 866.82 L697.54 866.91 L697.70 867.00 L697.85 867.09 L698.00 867.18 L698.01 867.18 L698.16 867.26 L698.31 867.35 L698.47 867.44 L698.62 867.53 L698.78 867.61 L698.78 867.61 L698.93 867.70 L699.09 867.79 L699.24 867.87 L699.40 867.96 L699.55 868.05 L699.55 868.05 L699.71 868.13 L699.86 868.22 L700.02 868.30 L700.17 868.39 L700.33 868.47 L700.33 868.47 L700.48 868.56 L700.64 868.64 L700.79 868.72 L700.95 868.81 L701.10 868.89 L701.25 868.97 L701.41 869.06 L701.56 869.14 L701.72 869.22 L701.87 869.30 L701.87 869.30 L702.03 869.39 L702.18 869.47 L702.34 869.55 L702.49 869.63 L702.65 869.71 L702.65 869.71 L702.80 869.79 L702.96 869.87 L703.11 869.95 L703.27 870.03 L703.42 870.11 L703.42 870.11 L703.58 870.19 L703.73 870.27 L703.89 870.34 L704.04 870.42 L704.20 870.50 L704.20 870.50 L704.35 870.58 L704.50 870.66 L704.66 870.73 L704.81 870.81 L704.97 870.89 L705.12 870.96 L705.28 871.04 L705.43 871.11 L705.59 871.19 L705.74 871.26 L705.74 871.26 L705.90 871.34 L706.05 871.41 L706.21 871.49 L706.36 871.56 L706.52 871.63 L706.52 871.63 L706.67 871.70 L706.83 871.78 L706.98 871.85 L707.14 871.92 L707.29 871.99 L707.29 871.99 L707.44 872.06 L707.60 872.13 L707.75 872.21 L707.91 872.28 L708.06 872.34 L708.06 872.34 L708.22 872.41 L708.37 872.48 L708.53 872.55 L708.68 872.62 L708.84 872.69 L708.99 872.76 L709.15 872.82 L709.30 872.89 L709.46 872.96 L709.61 873.02 L709.61 873.02 L709.77 873.09 L709.92 873.15 L710.08 873.22 L710.23 873.28 L710.38 873.35 L710.38 873.35 L710.54 873.41 L710.69 873.48 L710.85 873.54 L711.00 873.60 L711.16 873.66 L711.16 873.66 L711.31 873.72 L711.47 873.79 L711.62 873.85 L711.78 873.91 L711.93 873.97 L711.93 873.97 L712.09 874.03 L712.24 874.09 L712.40 874.15 L712.55 874.20 L712.71 874.26 L712.86 874.32 L713.02 874.38 L713.17 874.43 L713.33 874.49 L713.48 874.55 L713.48 874.55 L713.63 874.60 L713.79 874.66 L713.94 874.71 L714.10 874.77 L714.25 874.82 L714.25 874.82 L714.41 874.87 L714.56 874.92 L714.72 874.98 L714.87 875.03 L715.03 875.08 L715.03 875.08 L715.18 875.13 L715.34 875.18 L715.49 875.23 L715.65 875.28 L715.80 875.33 L715.80 875.33 L715.96 875.38 L716.11 875.42 L716.27 875.47 L716.42 875.52 L716.58 875.57 L716.73 875.61 L716.88 875.66 L717.04 875.70 L717.19 875.75 L717.35 875.79 L717.35 875.79 L717.50 875.83 L717.66 875.87 L717.81 875.92 L717.97 875.96 L718.12 876.00 L718.12 876.00 L718.28 876.04 L718.43 876.08 L718.59 876.12 L718.74 876.16 L718.90 876.20 L718.90 876.20 L719.05 876.23 L719.21 876.27 L719.36 876.31 L719.52 876.34 L719.67 876.38 L719.67 876.38 L719.82 876.41 L719.98 876.45 L720.13 876.48 L720.29 876.51 L720.44 876.55 L720.60 876.58 L720.75 876.61 L720.91 876.64 L721.06 876.67 L721.22 876.70 L721.22 876.70 L721.37 876.73 L721.53 876.75 L721.68 876.78 L721.84 876.81 L721.99 876.83 L721.99 876.83 L722.15 876.86 L722.30 876.88 L722.46 876.91 L722.61 876.93 L722.76 876.95 L722.76 876.95 L722.92 876.98 L723.07 877.00 L723.23 877.02 L723.38 877.04 L723.54 877.06 L723.54 877.06 L723.69 877.08 L723.85 877.09 L724.00 877.11 L724.16 877.13 L724.31 877.14 L724.47 877.16 L724.62 877.17 L724.78 877.19 L724.93 877.20 L725.09 877.21 L725.09 877.21 L725.24 877.22 L725.40 877.23 L725.55 877.24 L725.71 877.25 L725.86 877.26 L725.86 877.26 L726.01 877.27 L726.17 877.27 L726.32 877.28 L726.48 877.28 L726.63 877.29 L726.63 877.29 L726.79 877.29 L726.94 877.30 L727.10 877.30 L727.25 877.30 L727.41 877.30 L727.41 877.30 L727.56 877.30 L727.72 877.30 L727.87 877.29 L728.03 877.29 L728.18 877.29 L728.34 877.28 L728.49 877.28 L728.65 877.27 L728.80 877.26 L728.95 877.25 L728.96 877.25 L729.11 877.24 L729.26 877.23 L729.42 877.22 L729.57 877.21 L729.73 877.20 L729.73 877.20 L729.88 877.18 L730.04 877.17 L730.19 877.15 L730.35 877.13 L730.50 877.12 L730.50 877.12 L730.66 877.10 L730.81 877.08 L730.97 877.06 L731.12 877.04 L731.28 877.01 L731.28 877.01 L731.43 876.99 L731.59 876.96 L731.74 876.94 L731.90 876.91 L732.05 876.88 L732.20 876.85 L732.36 876.82 L732.51 876.79 L732.67 876.76 L732.82 876.73 L732.82 876.73 L732.98 876.69 L733.13 876.66 L733.29 876.62 L733.44 876.58 L733.60 876.55 L733.60 876.55 L733.75 876.51 L733.91 876.46 L734.06 876.42 L734.22 876.38 L734.37 876.33 L734.37 876.33 L734.53 876.29 L734.68 876.24 L734.84 876.19 L734.99 876.14 L735.15 876.09 L735.15 876.09 L735.30 876.04 L735.45 875.99 L735.61 875.94 L735.76 875.88 L735.92 875.82 L736.07 875.77 L736.23 875.71 L736.38 875.65 L736.54 875.58 L736.69 875.52 L736.69 875.52 L736.85 875.46 L737.00 875.39 L737.16 875.32 L737.31 875.25 L737.47 875.19 L737.47 875.19 L737.62 875.11 L737.78 875.04 L737.93 874.97 L738.09 874.89 L738.24 874.81 L738.24 874.81 L738.39 874.74 L738.55 874.66 L738.70 874.58 L738.86 874.49 L739.01 874.41 L739.01 874.41 L739.17 874.32 L739.32 874.24 L739.48 874.15 L739.63 874.06 L739.79 873.96 L739.94 873.87 L740.10 873.78 L740.25 873.68 L740.41 873.58 L740.56 873.48 L740.56 873.48 L740.72 873.38 L740.87 873.28 L741.03 873.17 L741.18 873.06 L741.34 872.96 L741.34 872.96 L741.49 872.85 L741.64 872.73 L741.80 872.62 L741.95 872.51 L742.11 872.39 L742.11 872.39 L742.26 872.27 L742.42 872.15 L742.57 872.03 L742.73 871.90 L742.88 871.78 L742.88 871.78 L743.04 871.65 L743.19 871.52 L743.35 871.39 L743.50 871.25 L743.66 871.12 L743.81 870.98 L743.97 870.84 L744.12 870.70 L744.28 870.55 L744.43 870.41 L744.43 870.41 L744.58 870.26 L744.74 870.11 L744.89 869.96 L745.05 869.80 L745.20 869.65 L745.20 869.65 L745.36 869.49 L745.51 869.33 L745.67 869.16 L745.82 869.00 L745.98 868.83 L745.98 868.83 L746.13 868.66 L746.29 868.49 L746.44 868.32 L746.60 868.14 L746.75 867.96 L746.75 867.96 L746.91 867.78 L747.06 867.59 L747.22 867.41 L747.37 867.22 L747.52 867.03 L747.68 866.83 L747.83 866.63 L747.99 866.43 L748.14 866.23 L748.30 866.03 L748.30 866.03 L748.45 865.82 L748.61 865.61 L748.76 865.40 L748.92 865.18 L749.07 864.96 L749.07 864.96 L749.23 864.74 L749.38 864.52 L749.54 864.29 L749.69 864.06 L749.85 863.82 L749.85 863.82 L750.00 863.59 L750.16 863.35 L750.31 863.10 L750.47 862.86 L750.62 862.61 L750.62 862.61 L750.77 862.36 L750.93 862.10 L751.08 861.84 L751.24 861.58 L751.39 861.31 L751.55 861.04 L751.70 860.77 L751.86 860.49 L752.01 860.21 L752.17 859.93 L752.17 859.93 L752.32 859.64 L752.48 859.35 L752.63 859.06 L752.79 858.76 L752.94 858.45 L752.94 858.45 L753.10 858.15 L753.25 857.83 L753.41 857.52 L753.56 857.20 L753.72 856.87 L753.72 856.87 L753.87 856.55 L754.02 856.21 L754.18 855.88 L754.33 855.53 L754.49 855.19 L754.49 855.19 L754.64 854.84 L754.80 854.48 L754.95 854.12 L755.11 853.75 L755.26 853.38 L755.42 853.00 L755.57 852.62 L755.73 852.23 L755.88 851.84 L756.04 851.44 L756.04 851.44 L756.19 851.04 L756.35 850.63 L756.50 850.21 L756.66 849.79 L756.81 849.36 L756.81 849.36 L756.96 848.93 L757.12 848.48 L757.27 848.04 L757.43 847.58 L757.58 847.12 L757.58 847.12 L757.74 846.65 L757.89 846.17 L758.05 845.69 L758.20 845.19 L758.36 844.69 L758.36 844.69 L758.51 844.18 L758.67 843.67 L758.82 843.14 L758.98 842.60 L759.13 842.06 L759.29 841.50 L759.44 840.94 L759.60 840.36 L759.75 839.78 L759.90 839.18 L759.91 839.18 L760.06 838.57 L760.21 837.94 L760.37 837.31 L760.52 836.66 L760.68 836.00 L760.68 836.00 L760.83 835.32 L760.99 834.62 L761.14 833.91 L761.30 833.17 L761.45 832.42 L761.45 832.42 L761.61 831.65 L761.76 830.85 L761.92 830.03 L762.07 829.17 L762.23 828.28 L762.23 828.28 L762.38 827.35 L762.54 826.38 L762.69 825.33 L762.85 824.19 L763.00 822.81 L763.15 821.41 L763.31 820.22 L763.46 819.11 L763.62 818.04 L763.77 817.00 L763.77 817.00 L763.93 815.99 L764.08 815.00 L764.24 814.02 L764.39 813.06 L764.55 812.11 L764.55 812.11 L764.70 811.18 L764.86 810.25 L765.01 809.33 L765.17 808.42 L765.32 807.51 L765.32 807.51 L765.48 806.62 L765.63 805.72 L765.79 804.84 L765.94 803.95 L766.10 803.08 L766.10 803.08 L766.25 802.20 L766.40 801.34 L766.56 800.47 L766.71 799.61 L766.87 798.75 L767.02 797.90 L767.18 797.04 L767.33 796.20 L767.49 795.35 L767.64 794.51 L767.64 794.51 L767.80 793.67 L767.95 792.83 L768.11 791.99 L768.26 791.16 L768.42 790.33 L768.42 790.33 L768.57 789.50 L768.73 788.67 L768.88 787.84 L769.04 787.02 L769.19 786.20 L769.19 786.20 L769.34 785.38 L769.50 784.56 L769.65 783.74 L769.81 782.93 L769.96 782.11 L769.96 782.11 L770.12 781.30 L770.27 780.49 L770.43 779.68 L770.58 778.87 L770.74 778.07 L770.89 777.26 L771.05 776.46 L771.20 775.65 L771.36 774.85 L771.51 774.05 L771.51 774.05 L771.67 773.25 L771.82 772.46 L771.98 771.66 L772.13 770.86 L772.29 770.07 L772.29 770.07 L772.44 769.28 L772.59 768.48 L772.75 767.69 L772.90 766.90 L773.06 766.11 L773.06 766.11 L773.21 765.33 L773.37 764.54 L773.52 763.75 L773.68 762.97 L773.83 762.18 L773.83 762.18 L773.99 761.40 L774.14 760.62 L774.30 759.84 L774.45 759.05 L774.61 758.27 L774.76 757.50 L774.92 756.72 L775.07 755.94 L775.23 755.17 L775.38 754.39 L775.38 754.39 L775.53 753.62 L775.69 752.84 L775.84 752.07 L776.00 751.30 L776.15 750.53 L776.15 750.53 L776.31 749.76 L776.46 748.99 L776.62 748.22 L776.77 747.45 L776.93 746.68 L776.93 746.68 L777.08 745.92 L777.24 745.15 L777.39 744.39 L777.55 743.62 L777.70 742.86 L777.70 742.86 L777.86 742.10 L778.01 741.33 L778.17 740.57 L778.32 739.81 L778.47 739.05 L778.63 738.29 L778.78 737.54 L778.94 736.78 L779.09 736.02 L779.25 735.27 L779.25 735.27 L779.40 734.51 L779.56 733.76 L779.71 733.00 L779.87 732.25 L780.02 731.50 L780.02 731.50 L780.18 730.74 L780.33 729.99 L780.49 729.24 L780.64 728.49 L780.80 727.74 L780.80 727.74 L780.95 727.00 L781.11 726.25 L781.26 725.50 L781.42 724.76 L781.57 724.01 L781.57 724.01 L781.72 723.26 L781.88 722.52 L782.03 721.78 L782.19 721.03 L782.34 720.29 L782.50 719.55 L782.65 718.81 L782.81 718.07 L782.96 717.33 L783.12 716.59 L783.12 716.59 L783.27 715.85 L783.43 715.12 L783.58 714.38 L783.74 713.64 L783.89 712.91 L783.89 712.91 L784.05 712.17 L784.20 711.44 L784.36 710.70 L784.51 709.97 L784.66 709.24 L784.67 709.24 L784.82 708.51 L784.97 707.78 L785.13 707.05 L785.28 706.32 L785.44 705.59 L785.44 705.59 L785.59 704.86 L785.75 704.13 L785.90 703.40 L786.06 702.68 L786.21 701.95 L786.37 701.23 L786.52 700.50 L786.68 699.78 L786.83 699.05 L786.99 698.33 L786.99 698.33 L787.14 697.61 L787.30 696.89 L787.45 696.17 L787.61 695.45 L787.76 694.73 L787.76 694.73 L787.91 694.01 L788.07 693.29 L788.22 692.57 L788.38 691.86 L788.53 691.14 L788.53 691.14 L788.69 690.42 L788.84 689.71 L789.00 688.99 L789.15 688.28 L789.31 687.57 L789.31 687.57 L789.46 686.85 L789.62 686.14 L789.77 685.43 L789.93 684.72 L790.08 684.01 L790.24 683.30 L790.39 682.59 L790.55 681.88 L790.70 681.18 L790.85 680.47 L790.86 680.47 L791.01 679.76 L791.16 679.06 L791.32 678.35 L791.47 677.65 L791.63 676.94 L791.63 676.94 L791.78 676.24 L791.94 675.54 L792.09 674.84 L792.25 674.13 L792.40 673.43 L792.40 673.43 L792.56 672.73 L792.71 672.03 L792.87 671.33 L793.02 670.64 L793.18 669.94 L793.18 669.94 L793.33 669.24 L793.49 668.54 L793.64 667.85 L793.80 667.15 L793.95 666.46 L794.10 665.76 L794.26 665.07 L794.41 664.38 L794.57 663.69 L794.72 663.00 L794.72 663.00 L794.88 662.30 L795.03 661.61 L795.19 660.92 L795.34 660.24 L795.50 659.55 L795.50 659.55 L795.65 658.86 L795.81 658.17 L795.96 657.48 L796.12 656.80 L796.27 656.11 L796.27 656.11 L796.43 655.43 L796.58 654.74 L796.74 654.06 L796.89 653.38 L797.05 652.70 L797.05 652.70 L797.20 652.01 L797.35 651.33 L797.51 650.65 L797.66 649.97 L797.82 649.29 L797.97 648.61 L798.13 647.94 L798.28 647.26 L798.44 646.58 L798.59 645.91 L798.59 645.91 L798.75 645.23 L798.90 644.55 L799.06 643.88 L799.21 643.21 L799.37 642.53 L799.37 642.53 L799.52 641.86 L799.68 641.19 L799.83 640.52 L799.99 639.85 L800.14 639.18 L800.14 639.18 L800.29 638.51 L800.45 637.84 L800.60 637.17 L800.76 636.50 L800.91 635.83 L800.91 635.83 L801.07 635.17 L801.22 634.50 L801.38 633.84 L801.53 633.17 L801.69 632.51 L801.84 631.84 L802.00 631.18 L802.15 630.52 L802.31 629.86 L802.46 629.20 L802.46 629.20 L802.62 628.54 L802.77 627.88 L802.93 627.22 L803.08 626.56 L803.24 625.90 L803.24 625.90 L803.39 625.24 L803.54 624.58 L803.70 623.93 L803.85 623.27 L804.01 622.62 L804.01 622.62 L804.16 621.96 L804.32 621.31 L804.47 620.66 L804.63 620.00 L804.78 619.35 L804.78 619.35 L804.94 618.70 L805.09 618.05 L805.25 617.40 L805.40 616.75 L805.56 616.10 L805.71 615.45 L805.87 614.80 L806.02 614.16 L806.18 613.51 L806.33 612.86 L806.33 612.86 L806.48 612.22 L806.64 611.57 L806.79 610.93 L806.95 610.29 L807.10 609.64 L807.10 609.64 L807.26 609.00 L807.41 608.36 L807.57 607.72 L807.72 607.08 L807.88 606.44 L807.88 606.44 L808.03 605.80 L808.19 605.16 L808.34 604.52 L808.50 603.88 L808.65 603.24 L808.65 603.24 L808.81 602.61 L808.96 601.97 L809.12 601.34 L809.27 600.70 L809.42 600.07 L809.58 599.43 L809.73 598.80 L809.89 598.17 L810.04 597.54 L810.20 596.91 L810.20 596.91 L810.35 596.27 L810.51 595.64 L810.66 595.02 L810.82 594.39 L810.97 593.76 L810.97 593.76 L811.13 593.13 L811.28 592.50 L811.44 591.88 L811.59 591.25 L811.75 590.63 L811.75 590.63 L811.90 590.00 L812.06 589.38 L812.21 588.75 L812.37 588.13 L812.52 587.51 L812.52 587.51 L812.67 586.89 L812.83 586.27 L812.98 585.64 L813.14 585.02 L813.29 584.41 L813.45 583.79 L813.60 583.17 L813.76 582.55 L813.91 581.93 L814.07 581.32 L814.07 581.32 L814.22 580.70 L814.38 580.09 L814.53 579.47 L814.69 578.86 L814.84 578.24 L814.84 578.24 L815.00 577.63 L815.15 577.02 L815.31 576.41 L815.46 575.80 L815.62 575.18 L815.62 575.18 L815.77 574.57 L815.92 573.97 L816.08 573.36 L816.23 572.75 L816.39 572.14 L816.39 572.14 L816.54 571.53 L816.70 570.93 L816.85 570.32 L817.01 569.72 L817.16 569.11 L817.32 568.51 L817.47 567.90 L817.63 567.30 L817.78 566.70 L817.94 566.10 L817.94 566.10 L818.09 565.49 L818.25 564.89 L818.40 564.29 L818.56 563.69 L818.71 563.10 L818.71 563.10 L818.86 562.50 L819.02 561.90 L819.17 561.30 L819.33 560.70 L819.48 560.11 L819.48 560.11 L819.64 559.51 L819.79 558.92 L819.95 558.32 L820.10 557.73 L820.26 557.14 L820.26 557.14 L820.41 556.54 L820.57 555.95 L820.72 555.36 L820.88 554.77 L821.03 554.18 L821.19 553.59 L821.34 553.00 L821.50 552.41 L821.65 551.82 L821.80 551.24 L821.81 551.24 L821.96 550.65 L822.11 550.06 L822.27 549.48 L822.42 548.89 L822.58 548.31 L822.58 548.31 L822.73 547.72 L822.89 547.14 L823.04 546.56 L823.20 545.97 L823.35 545.39 L823.35 545.39 L823.51 544.81 L823.66 544.23 L823.82 543.65 L823.97 543.07 L824.13 542.49 L824.13 542.49 L824.28 541.91 L824.44 541.34 L824.59 540.76 L824.75 540.18 L824.90 539.61 L825.05 539.03 L825.21 538.46 L825.36 537.88 L825.52 537.31 L825.67 536.73 L825.67 536.73 L825.83 536.16 L825.98 535.59 L826.14 535.02 L826.29 534.45 L826.45 533.88 L826.45 533.88 L826.60 533.31 L826.76 532.74 L826.91 532.17 L827.07 531.60 L827.22 531.03 L827.22 531.03 L827.38 530.47 L827.53 529.90 L827.69 529.33 L827.84 528.77 L828.00 528.20 L828.00 528.20 L828.15 527.64 L828.30 527.08 L828.46 526.51 L828.61 525.95 L828.77 525.39 L828.92 524.83 L829.08 524.26 L829.23 523.70 L829.39 523.14 L829.54 522.59 L829.54 522.59 L829.70 522.03 L829.85 521.47 L830.01 520.91 L830.16 520.35 L830.32 519.80 L830.32 519.80 L830.47 519.24 L830.63 518.69 L830.78 518.13 L830.94 517.58 L831.09 517.02 L831.09 517.02 L831.24 516.47 L831.40 515.92 L831.55 515.37 L831.71 514.81 L831.86 514.26 L831.86 514.26 L832.02 513.71 L832.17 513.16 L832.33 512.61 L832.48 512.06 L832.64 511.52 L832.79 510.97 L832.95 510.42 L833.10 509.87 L833.26 509.33 L833.41 508.78 L833.41 508.78 L833.57 508.24 L833.72 507.69 L833.88 507.15 L834.03 506.61 L834.18 506.06 L834.18 506.06 L834.34 505.52 L834.49 504.98 L834.65 504.44 L834.80 503.90 L834.96 503.36 L834.96 503.36 L835.11 502.82 L835.27 502.28 L835.42 501.74 L835.58 501.20 L835.73 500.67 L835.73 500.67 L835.89 500.13 L836.04 499.59 L836.20 499.06 L836.35 498.52 L836.51 497.99 L836.66 497.45 L836.82 496.92 L836.97 496.39 L837.13 495.85 L837.28 495.32 L837.28 495.32 L837.43 494.79 L837.59 494.26 L837.74 493.73 L837.90 493.20 L838.05 492.67 L838.05 492.67 L838.21 492.14 L838.36 491.61 L838.52 491.09 L838.67 490.56 L838.83 490.03 L838.83 490.03 L838.98 489.51 L839.14 488.98 L839.29 488.46 L839.45 487.93 L839.60 487.41 L839.60 487.41 L839.76 486.88 L839.91 486.36 L840.07 485.84 L840.22 485.32 L840.38 484.80 L840.53 484.28 L840.68 483.76 L840.84 483.24 L840.99 482.72 L841.15 482.20 L841.15 482.20 L841.30 481.68 L841.46 481.16 L841.61 480.65 L841.77 480.13 L841.92 479.61 L841.92 479.61 L842.08 479.10 L842.23 478.58 L842.39 478.07 L842.54 477.55 L842.70 477.04 L842.70 477.04 L842.85 476.53 L843.01 476.02 L843.16 475.50 L843.32 474.99 L843.47 474.48 L843.47 474.48 L843.62 473.97 L843.78 473.46 L843.93 472.95 L844.09 472.44 L844.24 471.94 L844.40 471.43 L844.55 470.92 L844.71 470.41 L844.86 469.91 L845.02 469.40 L845.02 469.40 L845.17 468.90 L845.33 468.39 L845.48 467.89 L845.64 467.39 L845.79 466.88 L845.79 466.88 L845.95 466.38 L846.10 465.88 L846.26 465.38 L846.41 464.88 L846.57 464.38 L846.57 464.38 L846.72 463.88 L846.87 463.38 L847.03 462.88 L847.18 462.38 L847.34 461.88 L847.34 461.88 L847.49 461.38 L847.65 460.89 L847.80 460.39 L847.96 459.90 L848.11 459.40 L848.27 458.91 L848.42 458.41 L848.58 457.92 L848.73 457.43 L848.89 456.93 L848.89 456.93 L849.04 456.44 L849.20 455.95 L849.35 455.46 L849.51 454.97 L849.66 454.48 L849.66 454.48 L849.81 453.99 L849.97 453.50 L850.12 453.01 L850.28 452.52 L850.43 452.03 L850.43 452.03 L850.59 451.55 L850.74 451.06 L850.90 450.57 L851.05 450.09 L851.21 449.60 L851.21 449.60 L851.36 449.12 L851.52 448.63 L851.67 448.15 L851.83 447.67 L851.98 447.18 L852.14 446.70 L852.29 446.22 L852.45 445.74 L852.60 445.26 L852.75 444.78 L852.75 444.78 L852.91 444.30 L853.06 443.82 L853.22 443.34 L853.37 442.86 L853.53 442.39 L853.53 442.39 L853.68 441.91 L853.84 441.43 L853.99 440.96 L854.15 440.48 L854.30 440.00 L854.30 440.00 L854.46 439.53 L854.61 439.06 L854.77 438.58 L854.92 438.11 L855.08 437.64 L855.08 437.64 L855.23 437.16 L855.39 436.69 L855.54 436.22 L855.70 435.75 L855.85 435.28 L856.62 432.94 L857.40 430.60 L858.17 428.29 L858.95 425.98 L859.72 423.68 L860.49 421.40 L861.27 419.13 L862.04 416.87 L862.81 414.62 L863.59 412.38 L864.36 410.16 L865.13 407.95 L865.91 405.75 L866.68 403.56 L867.46 401.38 L868.23 399.21 L869.00 397.06 L869.78 394.92 L870.55 392.78 L871.33 390.66 L872.10 388.55 L872.87 386.45 L873.65 384.37 L874.42 382.29 L875.19 380.23 L875.97 378.17 L876.74 376.13 L877.51 374.10 L878.29 372.07 L879.06 370.06 L879.84 368.06 L880.61 366.07 L881.38 364.10 L882.16 362.13 L882.93 360.17 L883.71 358.22 L884.48 356.29 L885.25 354.36 L886.03 352.44 L886.80 350.54 L887.57 348.64 L888.35 346.76 L889.12 344.88 L889.90 343.02 L890.67 341.16 L891.44 339.32 L892.22 337.48 L892.99 335.66 L893.76 333.84 L894.54 332.04 L895.31 330.24 L896.09 328.45 L896.86 326.68 L897.63 324.91 L898.41 323.15 L899.18 321.41 L899.95 319.67 L900.73 317.94 L901.50 316.22 L902.28 314.51 L903.05 312.81 L903.82 311.12 L904.60 309.43 L905.37 307.76 L906.14 306.10 L906.92 304.44 L907.69 302.80 L908.47 301.16 L909.24 299.53 L910.01 297.91 L910.79 296.30 L911.56 294.70 L912.33 293.11 L913.11 291.52 L913.88 289.95 L914.66 288.38 L915.43 286.82 L916.20 285.27 L916.98 283.73 L917.75 282.20 L918.52 280.67 L919.30 279.16 L920.07 277.65 L920.85 276.15 L921.62 274.66 L922.39 273.17 L923.17 271.70 L923.94 270.23 L924.71 268.77 L925.49 267.32 L926.26 265.88 L927.04 264.44 L927.81 263.02 L928.58 261.60 L929.36 260.19 L930.13 258.78 L930.90 257.39 L931.68 256.00 L932.45 254.62 L933.22 253.24 L934.00 251.88 L934.77 250.52 L935.55 249.17 L936.32 247.83 L937.09 246.49 L937.87 245.16 L938.64 243.84 L939.42 242.53 L940.19 241.22 L940.96 239.93 L941.74 238.63 L942.51 237.35 L943.28 236.07 L944.06 234.80 L944.83 233.54 L945.61 232.28 L946.38 231.03 L947.15 229.79 L947.93 228.55 L948.70 227.32 L949.47 226.10 L950.25 224.89 L951.02 223.68 L951.80 222.48 L952.57 221.28 L953.34 220.09 L954.12 218.91 L954.89 217.74 L955.66 216.57 L956.44 215.41 L957.21 214.25 L957.99 213.10 L958.76 211.96 L959.53 210.82 L960.31 209.69 L961.08 208.57 L961.85 207.45 L962.63 206.34 L963.40 205.23 L964.17 204.13 L964.95 203.04 L965.72 201.95 L966.50 200.87 L967.27 199.80 L968.04 198.73 L968.82 197.67 L969.59 196.61 L970.37 195.56 L971.14 194.51 L971.91 193.48 L972.69 192.44 L973.46 191.41 L974.23 190.39 L975.01 189.38 L975.78 188.37 L976.56 187.36 L977.33 186.36 L978.10 185.37 L978.88 184.38 L979.65 183.40 L980.42 182.42 L981.20 181.45 L981.97 180.48 L982.75 179.52 L983.52 178.57 L984.29 177.62 L985.07 176.67 L985.84 175.73 L986.61 174.80 L987.39 173.87 L988.16 172.94 L988.93 172.03 L989.71 171.11 L990.48 170.20 L991.26 169.30 L992.03 168.40 L992.80 167.51 L993.58 166.62 L994.35 165.74 L995.12 164.86 L995.90 163.99 L996.67 163.12 L997.45 162.26 L998.22 161.40 L998.99 160.54 L999.77 159.70 L1000.54 158.85 L1001.32 158.01 L1002.09 157.18 L1002.86 156.35 L1003.64 155.52 L1004.41 154.70 L1005.18 153.89 L1005.96 153.07 L1006.73 152.27 L1007.50 151.46 L1008.28 150.67 L1009.05 149.87 L1009.83 149.08 L1010.60 148.30 L1011.37 147.52 L1012.15 146.74 L1012.92 145.97 L1013.70 145.21 L1014.47 144.44 L1015.24 143.69 L1016.02 142.93 L1016.79 142.18 L1017.56 141.44 L1018.34 140.69 L1019.11 139.96 L1019.88 139.22 L1020.66 138.50 L1021.43 137.77 L1022.21 137.05 L1022.98 136.33 L1023.75 135.62 L1024.53 134.91 L1025.30 134.21 L1026.08 133.51 L1026.85 132.81 L1027.62 132.12 L1028.40 131.43 L1029.17 130.74 L1029.94 130.06 L1030.72 129.39 L1031.49 128.71 L1032.26 128.04 L1033.04 127.38 L1033.81 126.72 L1034.59 126.06 L1035.36 125.40 L1036.13 124.75 L1036.91 124.11 L1037.68 123.46 L1038.45 122.82 L1039.23 122.19 L1040.00 121.55 L1040.78 120.92 L1041.55 120.30 L1042.32 119.68 L1043.10 119.06 L1043.87 118.44 L1044.64 117.83 L1045.42 117.22 L1046.19 116.62 L1046.97 116.02 L1047.74 115.42 L1048.51 114.83 L1049.29 114.24 L1050.06 113.65 L1050.84 113.06 L1051.61 112.48 L1052.38 111.90 L1053.16 111.33 L1053.93 110.76 L1054.70 110.19 L1055.48 109.63 L1056.25 109.07 L1057.03 108.51 L1057.80 107.95 L1058.57 107.40 L1059.35 106.85 L1060.12 106.30 L1060.89 105.76 L1061.67 105.22 L1062.44 104.69 L1063.22 104.15 L1063.99 103.62 L1064.76 103.09 L1065.54 102.57 L1066.31 102.05 L1067.08 101.53 L1067.86 101.01 L1068.63 100.50 L1069.41 99.99 L1070.18 99.49 L1070.95 98.98 L1071.73 98.48 L1072.50 97.98 L1073.27 97.49 L1074.05 96.99 L1074.82 96.50 L1075.60 96.02 L1076.37 95.53 L1077.14 95.05 L1077.92 94.57 L1078.69 94.10 L1079.46 93.62 L1080.24 93.15 L1081.01 92.68 L1081.79 92.22 L1082.56 91.76 L1083.33 91.30 L1084.11 90.84 L1084.88 90.38 L1085.65 89.93 L1086.43 89.48 L1087.20 89.03 L1087.97 88.59 L1088.75 88.15 L1089.52 87.71 L1090.30 87.27 L1091.07 86.84 L1091.84 86.40 L1092.62 85.97 L1093.39 85.55 L1094.16 85.12 L1094.94 84.70 L1095.71 84.28 L1096.49 83.86 L1097.26 83.45 L1098.03 83.03 L1098.81 82.62 L1099.58 82.22 L1100.36 81.81 L1101.13 81.41 L1101.90 81.00 L1102.68 80.61 L1103.45 80.21 L1104.22 79.81 L1105.00 79.42 L1105.77 79.03 L1106.55 78.64 L1107.32 78.26 L1108.09 77.88 L1108.87 77.49 L1109.64 77.12 L1110.41 76.74 L1111.19 76.36 L1111.96 75.99 L1112.74 75.62 L1113.51 75.25 L1114.28 74.89 L1115.06 74.52 L1115.83 74.16 L1116.60 73.80 L1117.38 73.44 L1118.15 73.09 L1118.92 72.73 L1119.70 72.38 L1120.47 72.03 L1121.25 71.68 L1122.02 71.34 L1122.79 70.99 L1123.57 70.65 L1124.34 70.31 L1125.12 69.97 L1125.89 69.64 L1126.66 69.30 L1127.44 68.97 L1128.21 68.64 L1128.98 68.31 L1129.76 67.98 L1130.53 67.66 L1131.31 67.34 L1132.08 67.02 L1132.85 66.70 L1133.63 66.38 L1134.40 66.06 L1135.17 65.75 L1135.95 65.44 L1136.72 65.13 L1137.49 64.82 L1138.27 64.51 L1139.04 64.21 L1139.82 63.90 L1140.59 63.60 L1141.36 63.30 L1142.14 63.00 L1142.91 62.71 L1143.69 62.41 L1144.46 62.12 L1145.23 61.83 L1146.01 61.54 L1146.78 61.25 L1147.55 60.96 L1148.33 60.68 L1149.10 60.40 L1149.88 60.11 L1150.65 59.83 L1151.42 59.56 L1152.20 59.28 L1152.97 59.00 L1153.74 58.73 L1154.52 58.46 L1155.29 58.19 L1156.07 57.92 L1156.84 57.65 L1157.61 57.39 L1158.39 57.12 L1159.16 56.86 L1159.93 56.60 L1160.71 56.34 L1161.48 56.08 L1162.26 55.82 L1163.03 55.57 L1163.80 55.31 L1164.58 55.06 L1165.35 54.81 L1166.12 54.56 L1166.90 54.31 L1167.67 54.06 L1168.44 53.82 L1169.22 53.57 L1169.99 53.33 L1170.77 53.09 L1171.54 52.85 L1172.31 52.61 L1173.09 52.37 L1173.86 52.14 L1174.64 51.90 L1175.41 51.67 L1176.18 51.44 L1176.96 51.21 L1177.73 50.98 L1178.50 50.75 L1179.28 50.53 L1180.05 50.30 L1180.83 50.08 L1181.60 49.85 L1182.37 49.63 L1183.15 49.41 L1183.92 49.19 L1184.69 48.98 L1185.47 48.76 L1186.24 48.54 L1187.02 48.33 L1187.79 48.12 L1188.56 47.91 L1189.34 47.70 L1190.11 47.49 L1190.88 47.28 L1191.66 47.07 L1192.43 46.87 L1193.20 46.66 L1193.98 46.46 L1194.75 46.26 L1195.53 46.06 L1196.30 45.86 L1197.07 45.66 L1197.85 45.46 L1198.62 45.27 L1199.39 45.07 L1200.17 44.88 L1200.94 44.68 L1201.72 44.49 L1202.49 44.30 L1203.26 44.11 L1204.04 43.92 L1204.81 43.74 L1205.59 43.55 L1206.36 43.36 L1207.13 43.18 L1207.91 43.00 L1208.68 42.81 L1209.45 42.63 L1210.23 42.45 L1211.00 42.27 L1211.78 42.10 L1212.55 41.92 L1213.32 41.74 L1214.10 41.57 L1214.87 41.39 L1215.64 41.22 L1216.42 41.05 L1217.19 40.88 L1217.97 40.71 L1218.74 40.54 L1219.51 40.37 L1220.29 40.20 L1221.06 40.04 L1221.83 39.87 L1222.61 39.71 L1223.38 39.54 L1224.15 39.38 L1224.93 39.22 L1225.70 39.06 L1226.48 38.90 L1227.25 38.74 L1228.02 38.58 L1228.80 38.43 L1229.57 38.27 L1230.35 38.12 L1231.12 37.96 L1231.89 37.81 L1232.67 37.66 L1233.44 37.50 L1234.21 37.35 L1234.99 37.20 L1235.76 37.05 L1236.54 36.91 L1237.31 36.76 L1238.08 36.61 L1238.86 36.47 L1239.63 36.32 L1240.40 36.18 L1241.18 36.03 L1241.95 35.89 L1242.72 35.75 L1243.50 35.61 L1244.27 35.47 L1245.05 35.33 L1245.82 35.19 L1246.59 35.05 L1247.37 34.92 L1248.14 34.78 L1248.92 34.65 L1249.69 34.51 L1250.46 34.38 L1251.24 34.25 L1252.01 34.11 L1252.78 33.98 L1253.56 33.85 L1254.33 33.72 L1255.11 33.59 L1255.88 33.46 L1256.65 33.34 L1257.43 33.21 L1258.20 33.08 L1258.97 32.96 L1259.75 32.83 L1260.52 32.71 L1261.30 32.59 L1262.07 32.46 L1262.84 32.34 L1263.62 32.22 L1264.39 32.10 L1265.16 31.98 L1265.94 31.86 L1266.71 31.74 L1267.49 31.63 L1268.26 31.51 L1269.03 31.39 L1269.81 31.28 L1270.58 31.16 L1271.35 31.05 L1272.13 30.93 L1272.90 30.82 L1273.67 30.71 L1274.45 30.59 L1275.22 30.48 L1276.00 30.37 L1276.77 30.26 L1277.54 30.15 L1278.32 30.05 L1279.09 29.94 L1279.87 29.83 L1280.64 29.72 L1281.41 29.62 L1282.19 29.51 L1282.96 29.41 L1283.73 29.30 L1284.51 29.20 L1285.28 29.09 L1286.06 28.99 L1286.83 28.89 L1287.60 28.79 L1288.38 28.69 L1289.15 28.59 L1289.92 28.49 L1290.70 28.39 L1291.47 28.29 L1292.24 28.19 L1293.02 28.09 L1293.79 28.00 L1294.57 27.90 L1295.34 27.81 L1296.11 27.71 L1296.89 27.62 L1297.66 27.52 L1298.44 27.43 L1299.21 27.34 L1299.98 27.24 L1300.76 27.15 L1301.53 27.06 L1302.30 26.97 L1303.08 26.88 L1303.85 26.79 L1304.62 26.70 L1305.40 26.61 L1306.17 26.52 L1306.95 26.43 L1307.72 26.35 L1308.49 26.26 L1309.27 26.17 L1310.04 26.09 L1310.82 26.00 L1311.59 25.92 L1312.36 25.83 L1313.14 25.75 L1313.91 25.66 L1314.68 25.58 L1315.46 25.50 L1316.23 25.42 L1317.01 25.34 L1317.78 25.25 L1318.55 25.17 L1319.33 25.09 L1320.10 25.01 L1320.87 24.94 L1321.65 24.86 L1322.42 24.78 L1323.19 24.70 L1323.97 24.62 L1324.74 24.55 L1325.52 24.47 L1326.29 24.39 L1327.06 24.32 L1327.84 24.24 L1328.61 24.17 L1329.39 24.09 L1330.16 24.02 L1330.93 23.95 L1331.71 23.87 L1332.48 23.80 L1333.25 23.73 L1334.03 23.66 L1334.80 23.58 L1335.58 23.51 L1336.35 23.44 L1337.12 23.37 L1337.90 23.30 L1338.67 23.23 L1339.44 23.16 L1340.22 23.10 L1340.99 23.03 L1341.77 22.96 L1342.54 22.89 L1343.31 22.82 L1344.09 22.76 L1344.86 22.69 L1345.63 22.63 L1346.41 22.56 L1347.18 22.50 L1347.96 22.43 L1348.73 22.37 L1349.50 22.30 L1350.28 22.24 L1351.05 22.17 L1351.82 22.11 L1352.60 22.05 L1353.37 21.99 L1354.14 21.93 L1354.92 21.86 L1355.69 21.80 L1356.47 21.74 L1357.24 21.68 L1358.01 21.62 L1358.79 21.56 L1359.56 21.50 L1360.34 21.44 L1361.11 21.38 L1361.88 21.33 L1362.66 21.27 L1363.43 21.21 L1364.20 21.15 L1364.98 21.10 L1365.75 21.04 L1366.53 20.98 L1367.30 20.93 L1368.07 20.87 L1368.85 20.81 L1369.62 20.76 L1370.39 20.70 L1371.17 20.65 L1371.94 20.60 L1372.72 20.54 L1373.49 20.49 L1374.26 20.44 L1375.04 20.38 L1375.81 20.33 L1376.58 20.28 L1377.36 20.23 L1378.13 20.17 L1378.91 20.12 L1379.68 20.07" stroke="#EDB120" stroke-dasharray="22.85 6 10.7 6.07"/>
</g>
<g font-size="37.3">
<text x="142.8" y="1043.4" text-anchor="middle">-20</text>
<text x="297.6" y="1043.4" text-anchor="middle">-15</text>
<text x="452.3" y="1043.4" text-anchor="middle">-10</text>
<text x="607.0" y="1043.4" text-anchor="middle">-5</text>
<text x="761.8" y="1043.4" text-anchor="middle">0</text>
<text x="916.5" y="1043.4" text-anchor="middle">5</text>
<text x="1071.3" y="1043.4" text-anchor="middle">10</text>
<text x="1226.0" y="1043.4" text-anchor="middle">15</text>
<text x="1380.8" y="1043.4" text-anchor="middle">20</text>
<text x="126.5" y="1003.4" text-anchor="end">0.65</text>
<text x="126.5" y="863.8" text-anchor="end">0.7</text>
<text x="126.5" y="724.3" text-anchor="end">0.75</text>
<text x="126.5" y="584.7" text-anchor="end">0.8</text>
<text x="126.5" y="445.1" text-anchor="end">0.85</text>
<text x="126.5" y="305.5" text-anchor="end">0.9</text>
<text x="126.5" y="166.0" text-anchor="end">0.95</text>
<text x="126.5" y="25.4" text-anchor="end">1</text>
</g>
<text font-size="42.6" x="679.06" y="1101.3">20log</text>
<text font-size="42.6" x="783.86" y="1101.3">(</text>
<text class="g" font-size="42.3" transform="translate(799.98 1101.30) scale(1.13 1)">α</text>
<text font-size="42.6" x="830.35" y="1101.3">)</text>
<text font-size="42.9" transform="translate(30.2 500) rotate(-90)" text-anchor="middle">Multiplexing efficiency</text>
<rect x="1017" y="282" width="313.7" height="193.6" fill="#fff" stroke="#1c1c1c" stroke-width="1.8"/>
<g fill="none" stroke-width="8">
<path d="M1028 317.2H1114" stroke="#0072BD"/>
<path d="M1028 378.4H1114" stroke="#D95319" stroke-dasharray="22.7 22.915"/>
<path d="M1028 440H1114" stroke="#EDB120" stroke-dasharray="22.85 6 10.7 6.07"/>
</g>
<text class="g" font-size="34" transform="translate(1121.68 326.80) scale(1.17 1)">η</text>
<text font-size="25" x="1139.02" y="343.30">l</text>
<text font-size="34.1" x="1145.03" y="326.00">=1,</text>
<text class="g" font-size="34" transform="translate(1195.76 326.80) scale(1.17 1)">η</text>
<text font-size="25" x="1213.15" y="343.30">u</text>
<text font-size="34.1" x="1230.61" y="326.00">=1</text>
<text class="g" font-size="34" transform="translate(1121.68 387.10) scale(1.17 1)">η</text>
<text font-size="25" x="1139.02" y="403.60">l</text>
<text font-size="34.1" x="1145.03" y="386.30">=1,</text>
<text class="g" font-size="34" transform="translate(1195.76 387.10) scale(1.17 1)">η</text>
<text font-size="25" x="1213.15" y="403.60">u</text>
<text font-size="34.1" x="1230.61" y="386.30">=0.75</text>
<text class="g" font-size="34" transform="translate(1121.68 449.80) scale(1.17 1)">η</text>
<text font-size="25" x="1139.02" y="466.30">l</text>
<text font-size="34.1" x="1145.03" y="449.00">=0.75,</text>
<text class="g" font-size="34" transform="translate(1240.96 449.80) scale(1.17 1)">η</text>
<text font-size="25" x="1258.36" y="466.30">u</text>
<text font-size="34.1" x="1275.52" y="449.00">=1</text>
</svg></body></html>
